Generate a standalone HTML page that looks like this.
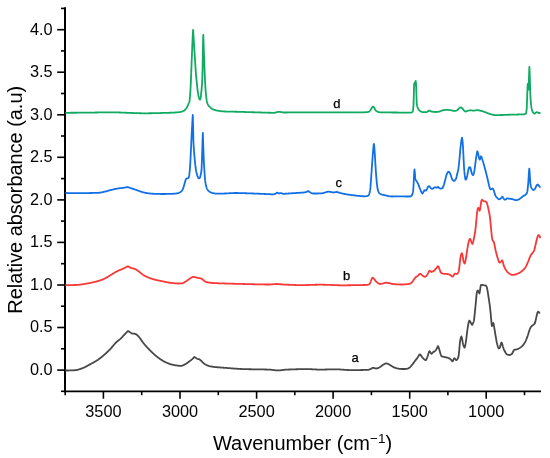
<!DOCTYPE html>
<html><head><meta charset="utf-8"><title>FTIR spectra</title>
<style>
html,body{margin:0;padding:0;background:#fff;}
body{width:550px;height:458px;overflow:hidden;}
svg{display:block;}
text{font-family:"Liberation Sans",Arial,sans-serif;fill:#000;}
.ax{stroke:#000;stroke-width:2.0;}
.tk{stroke:#000;stroke-width:1.6;}
.tl{font-size:16.3px;}
.lb{font-size:13px;stroke:#000;stroke-width:0.25px;}
.at{font-size:20px;}
</style></head><body>
<svg width="550" height="458" viewBox="0 0 550 458">
<rect width="550" height="458" fill="#fff"/>
<line x1="65.0" y1="7.3" x2="65.0" y2="392.25" class="ax"/>
<line x1="64.0" y1="391.4" x2="541" y2="391.4" class="ax" style="stroke-width:1.7"/>
<line x1="61.0" y1="391.3" x2="65.0" y2="391.3" class="tk"/>
<line x1="57.2" y1="370.1" x2="65.0" y2="370.1" class="tk"/>
<text x="52.6" y="374.9" class="tl" text-anchor="end">0.0</text>
<line x1="61.0" y1="348.8" x2="65.0" y2="348.8" class="tk"/>
<line x1="57.2" y1="327.5" x2="65.0" y2="327.5" class="tk"/>
<text x="52.6" y="332.4" class="tl" text-anchor="end">0.5</text>
<line x1="61.0" y1="306.2" x2="65.0" y2="306.2" class="tk"/>
<line x1="57.2" y1="285.0" x2="65.0" y2="285.0" class="tk"/>
<text x="52.6" y="289.9" class="tl" text-anchor="end">1.0</text>
<line x1="61.0" y1="263.7" x2="65.0" y2="263.7" class="tk"/>
<line x1="57.2" y1="242.4" x2="65.0" y2="242.4" class="tk"/>
<text x="52.6" y="247.3" class="tl" text-anchor="end">1.5</text>
<line x1="61.0" y1="221.1" x2="65.0" y2="221.1" class="tk"/>
<line x1="57.2" y1="199.9" x2="65.0" y2="199.9" class="tk"/>
<text x="52.6" y="204.8" class="tl" text-anchor="end">2.0</text>
<line x1="61.0" y1="178.6" x2="65.0" y2="178.6" class="tk"/>
<line x1="57.2" y1="157.3" x2="65.0" y2="157.3" class="tk"/>
<text x="52.6" y="162.2" class="tl" text-anchor="end">2.5</text>
<line x1="61.0" y1="136.0" x2="65.0" y2="136.0" class="tk"/>
<line x1="57.2" y1="114.8" x2="65.0" y2="114.8" class="tk"/>
<text x="52.6" y="119.7" class="tl" text-anchor="end">3.0</text>
<line x1="61.0" y1="93.5" x2="65.0" y2="93.5" class="tk"/>
<line x1="57.2" y1="72.2" x2="65.0" y2="72.2" class="tk"/>
<text x="52.6" y="77.1" class="tl" text-anchor="end">3.5</text>
<line x1="61.0" y1="50.9" x2="65.0" y2="50.9" class="tk"/>
<line x1="57.2" y1="29.7" x2="65.0" y2="29.7" class="tk"/>
<text x="52.6" y="34.6" class="tl" text-anchor="end">4.0</text>
<line x1="61.0" y1="8.4" x2="65.0" y2="8.4" class="tk"/>
<line x1="65.2" y1="391.4" x2="65.2" y2="395.2" class="tk"/>
<line x1="103.4" y1="391.4" x2="103.4" y2="398.7" class="tk"/>
<text x="103.4" y="416.6" class="tl" text-anchor="middle">3500</text>
<line x1="141.7" y1="391.4" x2="141.7" y2="395.2" class="tk"/>
<line x1="180.0" y1="391.4" x2="180.0" y2="398.7" class="tk"/>
<text x="180.0" y="416.6" class="tl" text-anchor="middle">3000</text>
<line x1="218.3" y1="391.4" x2="218.3" y2="395.2" class="tk"/>
<line x1="256.6" y1="391.4" x2="256.6" y2="398.7" class="tk"/>
<text x="256.6" y="416.6" class="tl" text-anchor="middle">2500</text>
<line x1="294.8" y1="391.4" x2="294.8" y2="395.2" class="tk"/>
<line x1="333.1" y1="391.4" x2="333.1" y2="398.7" class="tk"/>
<text x="333.1" y="416.6" class="tl" text-anchor="middle">2000</text>
<line x1="371.4" y1="391.4" x2="371.4" y2="395.2" class="tk"/>
<line x1="409.7" y1="391.4" x2="409.7" y2="398.7" class="tk"/>
<text x="409.7" y="416.6" class="tl" text-anchor="middle">1500</text>
<line x1="447.9" y1="391.4" x2="447.9" y2="395.2" class="tk"/>
<line x1="486.2" y1="391.4" x2="486.2" y2="398.7" class="tk"/>
<text x="486.2" y="416.6" class="tl" text-anchor="middle">1000</text>
<line x1="524.5" y1="391.4" x2="524.5" y2="395.2" class="tk"/>
<path d="M66.00,370.50 66.40,370.50 66.80,370.50 67.20,370.49 67.60,370.49 68.00,370.48 68.40,370.48 68.80,370.47 69.20,370.46 69.60,370.45 70.00,370.44 70.40,370.43 70.80,370.41 71.20,370.40 71.60,370.38 72.00,370.37 72.40,370.35 72.80,370.33 73.20,370.31 73.60,370.29 74.00,370.27 74.40,370.25 74.80,370.23 75.20,370.21 75.30,370.20 75.60,370.18 76.00,370.13 76.40,370.08 76.80,370.01 77.20,369.92 77.60,369.83 78.00,369.73 78.40,369.61 78.80,369.49 79.20,369.36 79.60,369.23 80.00,369.09 80.40,368.94 80.80,368.79 81.20,368.64 81.60,368.49 82.00,368.34 82.40,368.19 82.80,368.04 82.90,368.00 83.20,367.89 83.60,367.73 84.00,367.56 84.40,367.38 84.80,367.19 85.20,367.00 85.60,366.80 86.00,366.59 86.40,366.38 86.80,366.16 87.20,365.94 87.60,365.72 88.00,365.50 88.40,365.27 88.80,365.05 89.20,364.82 89.60,364.60 90.00,364.38 90.40,364.15 90.50,364.10 90.80,363.94 91.20,363.72 91.60,363.50 92.00,363.28 92.40,363.06 92.80,362.85 93.20,362.62 93.60,362.40 94.00,362.18 94.40,361.95 94.80,361.72 95.20,361.49 95.60,361.25 96.00,361.01 96.40,360.77 96.80,360.52 97.20,360.26 97.60,360.00 98.00,359.74 98.20,359.60 98.40,359.46 98.80,359.18 99.20,358.89 99.60,358.60 100.00,358.30 100.40,357.99 100.80,357.68 101.20,357.36 101.60,357.03 102.00,356.70 102.40,356.37 102.80,356.03 103.20,355.69 103.60,355.34 104.00,355.00 104.40,354.65 104.80,354.29 105.20,353.94 105.60,353.58 105.80,353.40 106.00,353.22 106.40,352.86 106.80,352.49 107.20,352.11 107.60,351.73 108.00,351.35 108.40,350.96 108.80,350.56 109.20,350.16 109.60,349.75 110.00,349.34 110.40,348.93 110.80,348.51 110.90,348.40 111.20,348.08 111.60,347.62 112.00,347.16 112.40,346.68 112.80,346.19 113.20,345.70 113.60,345.21 114.00,344.73 114.40,344.25 114.80,343.78 115.20,343.33 115.60,342.90 116.00,342.50 116.40,342.12 116.80,341.76 117.20,341.42 117.60,341.09 118.00,340.77 118.40,340.45 118.80,340.14 119.20,339.82 119.60,339.51 120.00,339.18 120.40,338.84 120.80,338.48 121.10,338.20 121.20,338.10 121.60,337.71 122.00,337.29 122.40,336.86 122.80,336.41 123.20,335.96 123.60,335.51 124.00,335.07 124.40,334.63 124.80,334.20 124.90,334.10 125.20,333.79 125.60,333.38 126.00,332.98 126.40,332.59 126.70,332.30 126.80,332.20 127.20,331.72 127.60,331.29 128.00,331.10 128.40,331.19 128.80,331.39 129.00,331.50 129.20,331.63 129.60,331.98 130.00,332.30 130.40,332.57 130.80,332.84 131.20,333.09 131.60,333.32 132.00,333.49 132.40,333.59 132.50,333.60 132.80,333.62 133.20,333.64 133.60,333.66 134.00,333.68 134.30,333.70 134.40,333.71 134.80,333.78 135.20,333.89 135.60,334.02 135.80,334.10 136.00,334.19 136.40,334.45 136.80,334.77 137.20,335.11 137.30,335.20 137.60,335.48 138.00,335.88 138.40,336.32 138.80,336.78 138.90,336.90 139.20,337.26 139.60,337.76 140.00,338.29 140.40,338.83 140.80,339.39 141.20,339.96 141.60,340.54 142.00,341.11 142.40,341.68 142.80,342.23 143.20,342.78 143.60,343.30 144.00,343.80 144.40,344.28 144.80,344.75 145.20,345.22 145.60,345.67 146.00,346.12 146.40,346.56 146.80,347.00 147.20,347.43 147.60,347.85 148.00,348.27 148.40,348.68 148.80,349.09 149.10,349.40 149.20,349.50 149.60,349.91 150.00,350.31 150.40,350.71 150.80,351.12 151.20,351.51 151.60,351.91 152.00,352.30 152.40,352.69 152.80,353.08 153.20,353.46 153.60,353.83 154.00,354.20 154.40,354.56 154.80,354.92 155.20,355.27 155.60,355.61 156.00,355.94 156.40,356.26 156.70,356.50 156.80,356.58 157.20,356.89 157.60,357.20 158.00,357.50 158.40,357.81 158.80,358.10 159.20,358.40 159.60,358.69 160.00,358.97 160.40,359.25 160.80,359.53 161.20,359.80 161.60,360.06 162.00,360.31 162.40,360.55 162.80,360.79 163.20,361.02 163.60,361.24 164.00,361.45 164.30,361.60 164.40,361.65 164.80,361.84 165.20,362.04 165.60,362.23 166.00,362.41 166.40,362.60 166.80,362.77 167.20,362.95 167.60,363.12 168.00,363.28 168.40,363.44 168.80,363.60 169.20,363.75 169.60,363.89 170.00,364.02 170.40,364.15 170.80,364.28 171.20,364.39 171.60,364.50 172.00,364.60 172.40,364.69 172.80,364.78 173.20,364.87 173.60,364.95 174.00,365.03 174.40,365.10 174.80,365.17 175.20,365.24 175.60,365.30 176.00,365.36 176.40,365.42 176.80,365.47 177.00,365.50 177.20,365.53 177.60,365.58 178.00,365.64 178.40,365.69 178.80,365.74 179.20,365.79 179.60,365.83 180.00,365.87 180.40,365.89 180.80,365.90 180.90,365.90 181.20,365.88 181.60,365.81 182.00,365.70 182.40,365.55 182.80,365.39 183.20,365.22 183.50,365.10 183.60,365.06 184.00,364.88 184.40,364.67 184.80,364.44 185.20,364.20 185.60,363.95 186.00,363.70 186.40,363.45 186.80,363.20 187.20,362.94 187.60,362.67 188.00,362.39 188.40,362.11 188.80,361.83 189.20,361.54 189.60,361.25 189.80,361.10 190.00,360.95 190.40,360.64 190.80,360.33 191.20,360.01 191.60,359.67 191.80,359.50 192.00,359.32 192.40,358.96 192.80,358.58 193.20,358.19 193.40,358.00 193.60,357.77 194.00,357.26 194.40,357.00 194.80,357.18 195.20,357.54 195.40,357.70 195.60,357.83 196.00,358.06 196.40,358.30 196.80,358.57 197.20,358.82 197.40,358.90 197.60,358.95 198.00,359.02 198.40,359.07 198.80,359.13 199.10,359.20 199.20,359.23 199.60,359.46 200.00,359.77 200.40,360.12 200.50,360.20 200.80,360.46 201.20,360.83 201.60,361.22 202.00,361.63 202.40,362.03 202.80,362.41 202.90,362.50 203.20,362.77 203.60,363.14 204.00,363.49 204.40,363.82 204.80,364.10 205.20,364.35 205.60,364.57 206.00,364.77 206.40,364.96 206.70,365.10 206.80,365.15 207.20,365.32 207.60,365.50 208.00,365.66 208.40,365.81 208.80,365.94 209.00,366.00 209.20,366.05 209.60,366.16 210.00,366.26 210.40,366.34 210.80,366.43 211.20,366.50 211.60,366.57 211.80,366.60 212.00,366.63 212.40,366.69 212.80,366.74 213.20,366.80 213.60,366.85 214.00,366.90 214.40,366.94 214.80,366.99 215.20,367.03 215.60,367.07 216.00,367.11 216.40,367.15 216.80,367.19 217.20,367.23 217.60,367.26 218.00,367.30 218.40,367.34 218.80,367.37 219.20,367.41 219.60,367.44 220.00,367.47 220.40,367.50 220.80,367.54 221.20,367.57 221.60,367.60 222.00,367.63 222.40,367.66 222.80,367.69 223.20,367.71 223.60,367.74 224.00,367.77 224.40,367.80 224.80,367.83 225.20,367.86 225.60,367.89 225.80,367.90 226.00,367.91 226.40,367.94 226.80,367.97 227.20,368.00 227.60,368.03 228.00,368.07 228.40,368.10 228.80,368.13 229.20,368.16 229.60,368.19 230.00,368.22 230.40,368.25 230.80,368.29 231.20,368.32 231.60,368.35 232.00,368.38 232.40,368.41 232.80,368.44 233.20,368.48 233.60,368.51 234.00,368.54 234.40,368.57 234.80,368.60 235.20,368.63 235.60,368.66 236.00,368.69 236.40,368.72 236.80,368.74 237.20,368.77 237.60,368.80 238.00,368.82 238.40,368.85 238.80,368.87 239.20,368.90 239.60,368.92 240.00,368.94 240.40,368.96 240.80,368.98 241.20,369.00 241.60,369.02 242.00,369.04 242.40,369.06 242.80,369.07 243.20,369.09 243.60,369.10 244.00,369.11 244.40,369.12 244.80,369.14 245.20,369.15 245.60,369.16 246.00,369.17 246.40,369.18 246.80,369.19 247.20,369.20 247.60,369.20 248.00,369.21 248.40,369.22 248.80,369.23 249.20,369.23 249.60,369.24 250.00,369.25 250.40,369.26 250.80,369.26 251.20,369.27 251.60,369.27 252.00,369.28 252.40,369.29 252.80,369.29 253.20,369.30 253.60,369.30 254.00,369.31 254.40,369.31 254.80,369.32 255.20,369.32 255.60,369.33 256.00,369.33 256.40,369.34 256.80,369.34 257.20,369.35 257.60,369.35 258.00,369.36 258.40,369.36 258.80,369.37 259.20,369.37 259.60,369.38 260.00,369.39 260.40,369.39 260.80,369.40 261.20,369.41 261.60,369.41 262.00,369.42 262.40,369.43 262.80,369.43 263.20,369.44 263.60,369.45 264.00,369.46 264.40,369.47 264.80,369.48 265.20,369.49 265.60,369.50 266.00,369.51 266.40,369.52 266.80,369.53 267.20,369.54 267.60,369.55 268.00,369.57 268.40,369.58 268.80,369.59 269.00,369.60 269.20,369.61 269.60,369.63 270.00,369.66 270.40,369.69 270.80,369.72 271.20,369.77 271.60,369.81 272.00,369.86 272.40,369.90 272.80,369.95 273.20,370.00 273.60,370.05 274.00,370.10 274.40,370.15 274.80,370.19 275.20,370.24 275.60,370.28 276.00,370.31 276.40,370.34 276.80,370.37 277.20,370.38 277.60,370.40 278.00,370.40 278.40,370.40 278.80,370.38 279.20,370.37 279.60,370.34 280.00,370.31 280.40,370.28 280.80,370.24 281.20,370.19 281.60,370.15 282.00,370.10 282.40,370.05 282.80,370.00 283.20,369.95 283.60,369.90 284.00,369.85 284.40,369.81 284.80,369.76 285.20,369.72 285.60,369.69 286.00,369.65 286.40,369.63 286.80,369.60 286.90,369.60 287.20,369.59 287.60,369.57 288.00,369.55 288.40,369.54 288.80,369.52 289.20,369.51 289.60,369.49 290.00,369.48 290.40,369.46 290.80,369.45 291.20,369.43 291.60,369.42 292.00,369.40 292.40,369.39 292.80,369.37 293.20,369.36 293.60,369.35 294.00,369.33 294.40,369.32 294.80,369.31 295.20,369.30 295.60,369.28 296.00,369.27 296.40,369.26 296.80,369.25 297.20,369.24 297.60,369.23 298.00,369.22 298.40,369.21 298.80,369.20 299.20,369.19 299.60,369.18 300.00,369.18 300.40,369.17 300.80,369.16 301.20,369.15 301.60,369.15 302.00,369.14 302.40,369.13 302.80,369.13 303.20,369.12 303.60,369.12 304.00,369.12 304.40,369.11 304.80,369.11 305.20,369.11 305.60,369.10 306.00,369.10 306.40,369.10 306.80,369.10 307.20,369.10 307.60,369.10 308.00,369.11 308.40,369.11 308.80,369.12 309.20,369.13 309.60,369.15 310.00,369.16 310.40,369.18 310.80,369.20 311.20,369.22 311.60,369.24 312.00,369.26 312.40,369.28 312.80,369.30 313.20,369.33 313.60,369.35 314.00,369.37 314.40,369.40 314.80,369.42 315.20,369.44 315.60,369.46 316.00,369.48 316.40,369.50 316.80,369.52 317.20,369.54 317.60,369.55 318.00,369.57 318.40,369.58 318.80,369.59 319.20,369.59 319.60,369.60 320.00,369.60 320.40,369.60 320.80,369.60 321.20,369.59 321.60,369.59 322.00,369.59 322.40,369.58 322.80,369.57 323.20,369.57 323.60,369.56 324.00,369.55 324.40,369.54 324.80,369.53 325.20,369.52 325.60,369.51 326.00,369.50 326.40,369.49 326.80,369.48 327.20,369.46 327.60,369.45 328.00,369.44 328.40,369.43 328.80,369.42 329.20,369.41 329.60,369.40 330.00,369.38 330.40,369.37 330.80,369.36 331.20,369.35 331.60,369.35 332.00,369.34 332.40,369.33 332.80,369.32 333.20,369.32 333.60,369.31 334.00,369.31 334.40,369.30 334.80,369.30 335.20,369.30 335.40,369.30 335.60,369.30 336.00,369.30 336.40,369.31 336.80,369.32 337.20,369.33 337.60,369.34 338.00,369.36 338.40,369.38 338.80,369.40 339.20,369.42 339.60,369.45 340.00,369.47 340.40,369.50 340.80,369.53 341.20,369.56 341.60,369.59 342.00,369.62 342.40,369.65 342.80,369.68 343.20,369.71 343.60,369.74 344.00,369.77 344.40,369.80 344.80,369.83 345.20,369.86 345.60,369.89 346.00,369.92 346.40,369.95 346.80,369.97 347.20,369.99 347.60,370.01 348.00,370.03 348.40,370.05 348.80,370.07 349.20,370.08 349.60,370.09 350.00,370.10 350.40,370.10 350.70,370.10 350.80,370.10 351.20,370.10 351.60,370.10 352.00,370.10 352.40,370.10 352.80,370.10 353.20,370.10 353.60,370.09 354.00,370.09 354.40,370.09 354.80,370.09 355.20,370.09 355.60,370.08 356.00,370.08 356.40,370.08 356.80,370.07 357.20,370.07 357.60,370.07 358.00,370.06 358.40,370.06 358.80,370.05 359.20,370.05 359.60,370.04 360.00,370.03 360.40,370.03 360.80,370.02 361.20,370.01 361.60,370.00 362.00,370.00 362.40,369.99 362.80,369.98 363.20,369.97 363.60,369.96 364.00,369.95 364.40,369.93 364.80,369.92 365.20,369.91 365.60,369.90 366.00,369.88 366.40,369.87 366.80,369.86 367.20,369.84 367.60,369.82 368.00,369.81 368.20,369.80 368.40,369.78 368.80,369.71 369.20,369.59 369.60,369.43 370.00,369.26 370.40,369.08 370.80,368.90 371.20,368.69 371.60,368.41 372.00,368.14 372.40,367.92 372.80,367.81 372.90,367.80 373.20,367.82 373.60,367.91 374.00,368.03 374.40,368.15 374.60,368.20 374.80,368.24 375.20,368.34 375.60,368.43 376.00,368.49 376.20,368.50 376.40,368.49 376.80,368.44 377.20,368.35 377.60,368.22 378.00,368.08 378.40,367.92 378.70,367.80 378.80,367.76 379.20,367.56 379.60,367.31 380.00,367.04 380.40,366.77 380.50,366.70 380.80,366.49 381.20,366.18 381.60,365.87 382.00,365.56 382.40,365.27 382.50,365.20 382.80,365.00 383.20,364.73 383.60,364.48 384.00,364.24 384.40,364.04 384.50,364.00 384.80,363.87 385.20,363.69 385.60,363.53 386.00,363.43 386.30,363.40 386.40,363.40 386.80,363.46 387.20,363.58 387.60,363.74 388.00,363.92 388.20,364.00 388.40,364.09 388.80,364.30 389.20,364.55 389.60,364.82 390.00,365.08 390.20,365.20 390.40,365.32 390.80,365.57 391.20,365.83 391.60,366.08 392.00,366.32 392.40,366.55 392.50,366.60 392.80,366.75 393.20,366.95 393.60,367.14 394.00,367.32 394.40,367.49 394.80,367.65 395.20,367.80 395.60,367.94 396.00,368.07 396.40,368.20 396.80,368.32 397.20,368.43 397.60,368.52 398.00,368.60 398.40,368.67 398.80,368.73 399.20,368.79 399.60,368.85 400.00,368.90 400.40,368.94 400.80,368.97 401.20,368.99 401.60,369.00 402.00,369.00 402.40,369.00 402.80,369.00 403.20,369.00 403.60,369.00 404.00,369.00 404.40,369.00 404.80,369.00 405.00,369.00 405.20,369.00 405.60,368.97 406.00,368.93 406.40,368.87 406.80,368.80 407.20,368.71 407.60,368.61 408.00,368.50 408.40,368.35 408.80,368.12 409.20,367.84 409.60,367.53 410.00,367.20 410.40,366.83 410.80,366.40 411.20,365.93 411.60,365.44 411.80,365.20 412.00,364.96 412.40,364.45 412.80,363.93 413.20,363.40 413.60,362.85 414.00,362.30 414.40,361.74 414.80,361.19 415.20,360.64 415.60,360.10 416.00,359.58 416.40,359.08 416.80,358.58 417.20,358.07 417.60,357.53 418.00,356.95 418.10,356.80 418.40,356.26 418.80,355.50 419.00,355.20 419.20,354.93 419.60,354.45 419.90,354.30 420.00,354.32 420.40,354.67 420.80,355.23 421.00,355.50 421.20,355.76 421.60,356.33 422.00,356.93 422.40,357.48 422.50,357.60 422.80,357.95 423.20,358.38 423.60,358.77 424.00,359.10 424.40,359.40 424.80,359.69 425.20,359.94 425.60,360.08 425.80,360.10 426.00,359.99 426.40,359.32 426.70,358.70 426.80,358.49 427.20,357.46 427.60,356.30 428.00,355.03 428.40,353.74 428.60,353.20 428.80,352.68 429.20,351.67 429.60,351.20 430.00,351.61 430.40,352.38 430.60,352.70 430.80,352.98 431.20,353.53 431.60,353.80 432.00,353.44 432.40,352.81 432.50,352.70 432.80,352.44 433.20,352.14 433.40,352.00 433.60,351.86 434.00,351.63 434.40,351.41 434.80,351.17 435.20,350.88 435.40,350.70 435.60,350.48 436.00,349.91 436.40,349.22 436.80,348.50 437.20,347.56 437.60,346.57 438.00,346.10 438.40,346.70 438.80,347.91 438.90,348.20 439.20,349.11 439.60,350.49 439.80,351.20 440.00,351.95 440.40,353.53 440.70,354.50 440.80,354.76 441.20,355.74 441.60,356.30 442.00,356.47 442.40,356.57 442.80,356.65 443.00,356.70 443.20,356.75 443.60,356.83 444.00,356.91 444.40,356.99 444.80,357.08 444.90,357.10 445.20,357.17 445.60,357.26 446.00,357.34 446.40,357.43 446.80,357.53 447.20,357.63 447.60,357.74 448.00,357.86 448.40,357.99 448.70,358.10 448.80,358.14 449.20,358.35 449.60,358.60 450.00,358.87 450.40,359.18 450.80,359.52 451.00,359.70 451.20,359.92 451.60,360.50 452.00,361.06 452.40,361.38 452.50,361.40 452.80,361.14 453.20,360.32 453.50,359.70 453.60,359.51 454.00,358.60 454.40,358.10 454.80,358.42 455.20,359.04 455.40,359.30 455.60,359.55 456.00,360.04 456.30,360.20 456.40,360.18 456.80,359.86 457.20,359.33 457.30,359.20 457.60,358.81 458.00,358.14 458.30,357.40 458.40,357.02 458.80,354.31 459.10,351.70 459.20,350.74 459.60,345.97 459.90,342.90 460.00,342.15 460.40,339.55 460.70,338.20 460.80,337.86 461.20,336.70 461.40,336.50 461.60,336.77 462.00,338.28 462.10,338.70 462.40,340.43 462.80,342.90 463.20,344.47 463.60,345.70 464.00,346.87 464.40,347.66 464.50,347.70 464.80,347.19 465.20,345.70 465.60,343.63 465.90,341.70 466.00,341.03 466.40,338.03 466.80,334.71 467.20,331.43 467.60,328.50 468.00,325.89 468.40,323.65 468.50,323.20 468.80,321.89 469.20,320.67 469.30,320.60 469.60,320.78 470.00,321.30 470.40,321.94 470.70,322.50 470.80,322.69 471.20,323.55 471.50,324.10 471.60,324.25 472.00,324.80 472.20,324.90 472.40,324.68 472.80,323.56 472.90,323.30 473.20,322.69 473.60,321.82 473.80,321.20 474.00,320.15 474.40,316.81 474.60,315.00 474.80,313.19 475.20,309.21 475.60,305.01 475.90,301.90 476.00,300.83 476.40,296.11 476.80,292.70 477.20,291.17 477.40,290.80 477.60,290.62 477.90,290.50 478.00,290.54 478.40,291.26 478.60,291.70 478.80,292.20 479.20,293.29 479.40,293.50 479.60,292.96 479.90,291.20 480.00,290.58 480.40,287.70 480.80,285.50 481.20,284.80 481.60,284.82 482.00,284.88 482.40,284.96 482.80,285.05 483.20,285.14 483.50,285.20 483.60,285.22 484.00,285.28 484.40,285.33 484.80,285.38 485.20,285.45 485.60,285.56 486.00,285.70 486.40,286.27 486.70,287.00 486.80,287.28 487.20,288.84 487.30,289.30 487.60,290.88 488.00,293.43 488.40,296.16 488.60,297.50 488.80,298.79 489.20,301.33 489.60,304.03 489.90,306.30 490.00,307.13 490.40,310.88 490.80,315.00 491.20,319.55 491.40,321.70 491.60,323.95 491.90,326.10 492.00,326.02 492.40,324.79 492.60,324.20 492.80,323.75 493.20,323.04 493.30,323.00 493.60,323.88 494.00,326.20 494.40,328.48 494.80,330.90 495.20,333.30 495.60,335.77 496.00,338.19 496.40,340.46 496.80,342.46 496.90,342.90 497.20,344.14 497.60,345.59 497.90,346.50 498.00,346.78 498.40,347.94 498.80,348.50 499.20,348.28 499.40,348.10 499.60,347.90 500.00,347.30 500.40,345.85 500.80,344.20 501.20,342.95 501.50,342.50 501.60,342.55 502.00,343.36 502.20,343.90 502.40,344.55 502.80,346.16 502.90,346.50 503.20,347.41 503.60,348.55 504.00,349.59 504.40,350.52 504.80,351.30 505.20,352.01 505.60,352.69 506.00,353.32 506.40,353.86 506.80,354.26 507.20,354.50 507.60,354.64 508.00,354.76 508.40,354.86 508.80,354.93 509.20,354.98 509.60,355.00 510.00,354.95 510.40,354.82 510.80,354.62 511.20,354.35 511.60,354.04 512.00,353.70 512.40,353.12 512.80,352.28 513.20,351.50 513.60,350.76 514.00,350.06 514.40,349.70 514.80,349.63 515.20,349.59 515.60,349.55 516.00,349.50 516.40,349.42 516.80,349.31 517.20,349.19 517.60,349.05 518.00,348.90 518.40,348.73 518.80,348.54 519.20,348.32 519.60,348.08 520.00,347.82 520.40,347.54 520.80,347.24 521.20,346.92 521.60,346.59 521.70,346.50 522.00,346.23 522.40,345.82 522.80,345.38 523.20,344.90 523.60,344.37 524.00,343.81 524.40,343.20 524.80,342.56 525.20,341.88 525.30,341.70 525.60,341.12 526.00,340.24 526.40,339.25 526.80,338.18 527.20,337.08 527.60,335.97 527.70,335.70 528.00,334.83 528.40,333.56 528.80,332.24 529.20,330.93 529.60,329.73 530.00,328.72 530.10,328.50 530.40,327.90 530.80,327.20 531.20,326.62 531.30,326.50 531.60,326.17 532.00,325.81 532.40,325.48 532.50,325.40 532.80,325.17 533.20,324.89 533.60,324.59 533.70,324.50 534.00,324.25 534.40,323.88 534.80,323.37 534.90,323.20 535.20,322.34 535.60,320.63 535.70,320.20 536.00,318.85 536.40,316.94 536.50,316.50 536.80,315.19 537.20,313.61 537.30,313.30 537.60,312.39 538.00,311.70 538.40,311.82 538.70,312.00 538.80,312.08 539.20,312.57 539.40,312.90" fill="none" stroke="#484848" stroke-width="1.8" stroke-linejoin="round" stroke-linecap="round"/>
<path d="M66.00,285.10 66.40,285.10 66.80,285.10 67.20,285.10 67.60,285.10 68.00,285.09 68.40,285.09 68.80,285.09 69.20,285.09 69.60,285.08 70.00,285.08 70.40,285.08 70.80,285.07 71.20,285.07 71.60,285.06 72.00,285.06 72.40,285.05 72.80,285.04 73.20,285.04 73.60,285.03 74.00,285.02 74.40,285.02 74.80,285.01 75.20,285.00 75.30,285.00 75.60,284.99 76.00,284.98 76.40,284.96 76.80,284.94 77.20,284.91 77.60,284.88 78.00,284.84 78.40,284.80 78.80,284.76 79.20,284.71 79.60,284.66 80.00,284.61 80.40,284.56 80.80,284.50 81.20,284.45 81.60,284.39 82.00,284.33 82.40,284.27 82.80,284.20 83.20,284.14 83.60,284.08 84.00,284.02 84.40,283.95 84.80,283.89 85.20,283.83 85.40,283.80 85.60,283.77 86.00,283.71 86.40,283.64 86.80,283.58 87.20,283.51 87.60,283.44 88.00,283.37 88.40,283.30 88.80,283.22 89.20,283.14 89.60,283.07 90.00,282.99 90.40,282.90 90.80,282.82 91.20,282.73 91.60,282.65 92.00,282.56 92.40,282.47 92.80,282.38 93.20,282.29 93.60,282.19 94.00,282.10 94.40,282.00 94.80,281.90 95.20,281.80 95.60,281.70 96.00,281.60 96.40,281.49 96.80,281.38 97.20,281.27 97.60,281.16 98.00,281.05 98.40,280.93 98.80,280.81 99.20,280.68 99.60,280.55 100.00,280.42 100.40,280.29 100.80,280.15 101.20,280.01 101.60,279.86 102.00,279.71 102.40,279.56 102.80,279.40 103.20,279.24 103.30,279.20 103.60,279.07 104.00,278.89 104.40,278.70 104.80,278.50 105.20,278.30 105.60,278.08 106.00,277.86 106.40,277.63 106.80,277.39 107.20,277.16 107.60,276.91 108.00,276.67 108.40,276.42 108.80,276.18 109.20,275.93 109.60,275.68 110.00,275.44 110.40,275.20 110.80,274.96 110.90,274.90 111.20,274.72 111.60,274.48 112.00,274.23 112.40,273.97 112.80,273.72 113.20,273.46 113.60,273.21 114.00,272.96 114.40,272.71 114.80,272.47 115.20,272.24 115.60,272.01 116.00,271.80 116.40,271.60 116.80,271.40 117.20,271.21 117.60,271.03 118.00,270.85 118.40,270.67 118.80,270.50 119.20,270.33 119.60,270.16 120.00,270.00 120.40,269.83 120.80,269.66 121.20,269.49 121.60,269.31 122.00,269.14 122.30,269.00 122.40,268.95 122.80,268.77 123.20,268.58 123.60,268.39 124.00,268.20 124.40,268.01 124.80,267.82 125.20,267.64 125.50,267.50 125.60,267.45 126.00,267.24 126.40,267.01 126.80,266.78 127.20,266.59 127.60,266.45 128.00,266.40 128.40,266.48 128.80,266.69 129.20,266.93 129.50,267.10 129.60,267.15 130.00,267.38 130.40,267.62 130.80,267.84 131.20,268.00 131.60,268.11 132.00,268.19 132.40,268.27 132.80,268.35 133.00,268.40 133.20,268.45 133.60,268.55 134.00,268.66 134.40,268.79 134.80,268.92 135.00,269.00 135.20,269.08 135.60,269.28 136.00,269.51 136.40,269.77 136.80,270.04 137.20,270.34 137.60,270.64 138.00,270.94 138.40,271.24 138.80,271.53 138.90,271.60 139.20,271.82 139.60,272.11 140.00,272.43 140.40,272.74 140.80,273.07 141.20,273.39 141.60,273.71 142.00,274.03 142.40,274.33 142.80,274.63 143.20,274.91 143.60,275.16 144.00,275.40 144.40,275.62 144.80,275.84 145.20,276.05 145.60,276.25 146.00,276.45 146.40,276.64 146.80,276.83 147.20,277.01 147.60,277.19 148.00,277.36 148.40,277.53 148.80,277.70 149.20,277.85 149.60,278.01 150.00,278.15 150.40,278.30 150.80,278.44 151.20,278.57 151.60,278.70 152.00,278.83 152.40,278.95 152.80,279.07 153.20,279.18 153.60,279.30 154.00,279.41 154.40,279.52 154.80,279.62 155.20,279.72 155.60,279.83 156.00,279.92 156.40,280.02 156.80,280.12 157.20,280.21 157.60,280.30 158.00,280.39 158.40,280.48 158.80,280.57 159.20,280.66 159.60,280.74 160.00,280.83 160.40,280.91 160.80,280.99 161.20,281.08 161.60,281.16 161.80,281.20 162.00,281.24 162.40,281.32 162.80,281.41 163.20,281.49 163.60,281.57 164.00,281.65 164.40,281.73 164.80,281.81 165.20,281.89 165.60,281.97 166.00,282.05 166.40,282.13 166.80,282.20 167.20,282.28 167.60,282.35 168.00,282.42 168.40,282.49 168.80,282.56 169.20,282.62 169.60,282.68 170.00,282.74 170.40,282.80 170.80,282.85 171.20,282.91 171.60,282.95 172.00,283.00 172.40,283.04 172.80,283.09 173.20,283.14 173.60,283.18 174.00,283.23 174.40,283.27 174.80,283.31 175.20,283.35 175.60,283.39 176.00,283.42 176.40,283.45 176.80,283.47 177.20,283.49 177.60,283.50 178.00,283.50 178.40,283.50 178.80,283.49 179.20,283.48 179.60,283.47 180.00,283.45 180.40,283.43 180.80,283.40 181.20,283.37 181.60,283.34 182.00,283.31 182.10,283.30 182.40,283.26 182.80,283.15 183.20,283.00 183.60,282.82 184.00,282.60 184.40,282.36 184.80,282.10 185.20,281.84 185.60,281.58 186.00,281.32 186.20,281.20 186.40,281.08 186.80,280.82 187.20,280.54 187.60,280.25 188.00,279.95 188.40,279.65 188.80,279.35 189.20,279.05 189.60,278.77 190.00,278.50 190.40,278.24 190.80,277.97 191.20,277.72 191.60,277.49 192.00,277.30 192.40,277.12 192.80,276.97 193.20,276.90 193.60,276.92 194.00,276.97 194.40,277.05 194.80,277.14 195.20,277.23 195.50,277.30 195.60,277.32 196.00,277.42 196.40,277.52 196.80,277.63 197.20,277.75 197.60,277.85 197.80,277.90 198.00,277.95 198.40,278.03 198.80,278.10 199.20,278.16 199.60,278.23 200.00,278.30 200.40,278.37 200.80,278.46 201.20,278.57 201.60,278.70 202.00,278.91 202.40,279.22 202.80,279.58 203.20,279.95 203.50,280.20 203.60,280.28 204.00,280.63 204.40,281.00 204.80,281.33 205.20,281.60 205.40,281.70 205.60,281.78 206.00,281.92 206.40,282.05 206.80,282.16 207.20,282.25 207.60,282.34 208.00,282.42 208.40,282.48 208.50,282.50 208.80,282.55 209.20,282.61 209.60,282.66 210.00,282.71 210.40,282.76 210.80,282.81 211.20,282.85 211.60,282.89 212.00,282.93 212.40,282.96 212.80,282.99 213.00,283.00 213.20,283.01 213.60,283.04 214.00,283.06 214.40,283.09 214.80,283.11 215.20,283.13 215.60,283.15 216.00,283.17 216.40,283.19 216.80,283.21 217.20,283.22 217.60,283.24 218.00,283.26 218.40,283.27 218.80,283.29 219.20,283.31 219.60,283.32 220.00,283.33 220.40,283.35 220.80,283.36 221.20,283.38 221.60,283.39 222.00,283.40 222.40,283.42 222.80,283.43 223.20,283.44 223.60,283.45 224.00,283.47 224.40,283.48 224.80,283.49 225.00,283.50 225.20,283.51 225.60,283.52 226.00,283.53 226.40,283.55 226.80,283.56 227.20,283.57 227.60,283.58 228.00,283.60 228.40,283.61 228.80,283.62 229.20,283.63 229.60,283.64 230.00,283.66 230.40,283.67 230.80,283.68 231.20,283.69 231.60,283.70 232.00,283.71 232.40,283.72 232.80,283.73 233.20,283.74 233.60,283.76 234.00,283.77 234.40,283.78 234.80,283.79 235.20,283.80 235.60,283.81 236.00,283.82 236.40,283.83 236.80,283.84 237.20,283.85 237.60,283.86 238.00,283.87 238.40,283.88 238.80,283.89 239.20,283.90 239.60,283.91 240.00,283.92 240.40,283.93 240.80,283.94 241.20,283.94 241.60,283.95 242.00,283.96 242.40,283.97 242.80,283.98 243.20,283.99 243.60,284.00 244.00,284.01 244.40,284.02 244.80,284.03 245.20,284.04 245.60,284.05 246.00,284.06 246.40,284.07 246.80,284.08 247.20,284.09 247.60,284.10 248.00,284.11 248.40,284.12 248.80,284.13 249.20,284.14 249.60,284.15 250.00,284.16 250.40,284.17 250.80,284.18 251.20,284.19 251.60,284.20 252.00,284.21 252.40,284.22 252.80,284.24 253.20,284.25 253.60,284.26 254.00,284.27 254.40,284.28 254.80,284.29 255.20,284.30 255.60,284.31 256.00,284.32 256.40,284.33 256.80,284.33 257.20,284.34 257.60,284.35 258.00,284.36 258.40,284.37 258.80,284.38 259.20,284.39 259.60,284.40 260.00,284.40 260.40,284.41 260.80,284.42 261.20,284.43 261.60,284.43 262.00,284.44 262.40,284.45 262.80,284.45 263.20,284.46 263.60,284.46 264.00,284.47 264.40,284.47 264.80,284.48 265.20,284.48 265.60,284.48 266.00,284.49 266.40,284.49 266.80,284.49 267.20,284.50 267.60,284.50 268.00,284.50 268.40,284.50 268.80,284.50 269.00,284.50 269.20,284.50 269.60,284.49 270.00,284.48 270.40,284.46 270.80,284.43 271.20,284.40 271.60,284.37 272.00,284.33 272.40,284.29 272.80,284.25 273.20,284.22 273.60,284.18 274.00,284.14 274.40,284.11 274.80,284.08 275.20,284.05 275.60,284.03 276.00,284.01 276.40,284.00 276.70,284.00 276.80,284.00 277.20,284.01 277.60,284.02 278.00,284.04 278.40,284.07 278.80,284.11 279.20,284.14 279.60,284.19 280.00,284.23 280.40,284.27 280.80,284.31 281.20,284.36 281.60,284.40 282.00,284.43 282.40,284.46 282.80,284.49 283.00,284.50 283.20,284.51 283.60,284.53 284.00,284.55 284.40,284.57 284.80,284.59 285.20,284.61 285.60,284.62 286.00,284.64 286.40,284.66 286.80,284.68 287.20,284.70 287.60,284.72 288.00,284.73 288.40,284.75 288.80,284.77 289.20,284.79 289.60,284.80 290.00,284.82 290.40,284.84 290.80,284.85 291.20,284.87 291.60,284.88 292.00,284.90 292.40,284.91 292.80,284.93 293.20,284.94 293.60,284.95 294.00,284.97 294.40,284.98 294.80,284.99 295.20,285.00 295.60,285.01 296.00,285.02 296.40,285.03 296.80,285.04 297.20,285.05 297.60,285.06 298.00,285.06 298.40,285.07 298.80,285.08 299.20,285.08 299.60,285.09 300.00,285.09 300.40,285.09 300.80,285.10 301.20,285.10 301.60,285.10 302.00,285.10 302.40,285.10 302.80,285.10 303.20,285.09 303.60,285.09 304.00,285.09 304.40,285.08 304.80,285.07 305.20,285.07 305.60,285.06 306.00,285.05 306.40,285.04 306.80,285.03 307.20,285.02 307.60,285.01 308.00,285.00 308.40,284.98 308.80,284.97 309.20,284.96 309.60,284.95 310.00,284.93 310.40,284.92 310.80,284.91 311.20,284.89 311.60,284.88 312.00,284.87 312.40,284.85 312.80,284.84 313.20,284.83 313.60,284.82 314.00,284.80 314.40,284.79 314.80,284.78 315.20,284.77 315.60,284.76 316.00,284.75 316.40,284.74 316.80,284.73 317.20,284.73 317.60,284.72 318.00,284.71 318.40,284.71 318.80,284.71 319.20,284.70 319.60,284.70 320.00,284.70 320.40,284.70 320.80,284.70 321.20,284.70 321.60,284.71 322.00,284.71 322.40,284.72 322.80,284.72 323.20,284.73 323.60,284.74 324.00,284.75 324.40,284.76 324.80,284.77 325.20,284.78 325.60,284.79 326.00,284.80 326.40,284.81 326.80,284.83 327.20,284.84 327.60,284.85 328.00,284.87 328.40,284.88 328.80,284.90 329.20,284.91 329.60,284.93 330.00,284.94 330.40,284.96 330.80,284.97 331.20,284.99 331.60,285.00 332.00,285.02 332.40,285.04 332.80,285.05 333.20,285.07 333.60,285.08 334.00,285.10 334.40,285.11 334.80,285.13 335.20,285.14 335.60,285.15 336.00,285.17 336.40,285.18 336.80,285.19 337.20,285.20 337.60,285.22 338.00,285.23 338.40,285.24 338.80,285.25 339.20,285.26 339.60,285.26 340.00,285.27 340.40,285.28 340.80,285.28 341.20,285.29 341.60,285.29 342.00,285.30 342.40,285.30 342.80,285.30 343.00,285.30 343.20,285.30 343.60,285.30 344.00,285.30 344.40,285.30 344.80,285.30 345.20,285.29 345.60,285.29 346.00,285.29 346.40,285.28 346.80,285.28 347.20,285.28 347.60,285.27 348.00,285.27 348.40,285.26 348.80,285.26 349.20,285.25 349.60,285.25 350.00,285.24 350.40,285.23 350.80,285.23 351.20,285.22 351.60,285.21 352.00,285.21 352.40,285.20 352.80,285.19 353.20,285.19 353.60,285.18 354.00,285.17 354.40,285.16 354.80,285.16 355.20,285.15 355.60,285.14 356.00,285.14 356.40,285.13 356.80,285.12 357.20,285.11 357.60,285.11 358.00,285.10 358.40,285.09 358.80,285.09 359.20,285.08 359.60,285.08 360.00,285.07 360.40,285.07 360.80,285.06 361.20,285.06 361.60,285.05 362.00,285.04 362.40,285.04 362.80,285.03 363.20,285.02 363.60,285.02 364.00,285.01 364.40,285.00 364.80,284.99 365.20,284.97 365.60,284.96 366.00,284.94 366.40,284.93 366.80,284.91 367.00,284.90 367.20,284.89 367.60,284.83 368.00,284.74 368.40,284.61 368.80,284.45 369.20,284.25 369.30,284.20 369.60,283.92 370.00,283.27 370.40,282.44 370.60,282.00 370.80,281.48 371.20,280.19 371.60,279.10 372.00,278.34 372.40,277.79 372.60,277.70 372.80,277.74 373.20,278.01 373.60,278.40 373.80,278.60 374.00,278.80 374.40,279.30 374.80,279.87 375.20,280.42 375.60,280.90 376.00,281.31 376.40,281.70 376.80,282.08 377.20,282.42 377.60,282.73 378.00,283.00 378.40,283.27 378.80,283.53 379.20,283.77 379.60,283.94 380.00,284.00 380.40,283.98 380.80,283.93 381.20,283.85 381.60,283.75 382.00,283.65 382.40,283.54 382.80,283.44 383.00,283.40 383.20,283.36 383.60,283.26 384.00,283.15 384.40,283.03 384.80,282.93 385.20,282.83 385.60,282.76 386.00,282.71 386.30,282.70 386.40,282.70 386.80,282.72 387.20,282.76 387.60,282.82 388.00,282.89 388.40,282.97 388.80,283.06 389.20,283.14 389.50,283.20 389.60,283.22 390.00,283.31 390.40,283.43 390.80,283.55 391.20,283.67 391.60,283.78 392.00,283.88 392.40,283.96 392.70,284.00 392.80,284.01 393.20,284.05 393.60,284.09 394.00,284.13 394.40,284.16 394.80,284.20 395.20,284.23 395.60,284.26 396.00,284.29 396.40,284.32 396.80,284.34 397.20,284.37 397.60,284.39 398.00,284.41 398.40,284.43 398.80,284.44 399.20,284.46 399.60,284.47 400.00,284.48 400.40,284.49 400.80,284.50 401.20,284.50 401.60,284.50 402.00,284.50 402.40,284.49 402.80,284.48 403.20,284.47 403.60,284.45 404.00,284.43 404.40,284.41 404.80,284.38 405.20,284.35 405.60,284.32 406.00,284.29 406.40,284.25 406.80,284.22 407.00,284.20 407.20,284.18 407.60,284.13 408.00,284.07 408.40,284.00 408.80,283.91 409.20,283.82 409.60,283.70 410.00,283.58 410.40,283.44 410.50,283.40 410.80,283.26 411.20,282.98 411.60,282.64 412.00,282.24 412.40,281.81 412.50,281.70 412.80,281.32 413.20,280.69 413.60,280.00 414.00,279.33 414.30,278.90 414.40,278.77 414.80,278.27 415.20,277.80 415.60,277.37 416.00,277.00 416.40,276.70 416.80,276.45 417.20,276.21 417.60,275.97 418.00,275.68 418.10,275.60 418.40,275.30 418.80,274.81 419.20,274.38 419.30,274.30 419.60,274.07 420.00,273.84 420.20,273.80 420.40,273.84 420.80,274.07 421.00,274.20 421.20,274.35 421.60,274.73 422.00,275.10 422.40,275.40 422.80,275.68 423.20,275.93 423.50,276.10 423.60,276.16 424.00,276.40 424.40,276.63 424.80,276.78 425.00,276.80 425.20,276.77 425.60,276.58 426.00,276.30 426.40,275.91 426.80,275.38 427.00,275.10 427.20,274.80 427.60,274.13 428.00,273.41 428.40,272.70 428.80,271.88 429.20,271.07 429.60,270.70 430.00,270.85 430.40,271.15 430.60,271.30 430.80,271.46 431.20,271.82 431.60,272.00 432.00,271.83 432.40,271.55 432.50,271.50 432.80,271.40 433.20,271.28 433.40,271.20 433.60,271.09 434.00,270.76 434.40,270.34 434.80,269.88 435.20,269.42 435.40,269.20 435.60,268.99 436.00,268.58 436.40,268.16 436.80,267.70 437.20,267.07 437.60,266.41 438.00,266.10 438.40,266.49 438.80,267.29 438.90,267.50 439.20,268.24 439.60,269.43 439.80,270.00 440.00,270.56 440.40,271.69 440.70,272.30 440.80,272.44 441.20,272.92 441.60,273.20 442.00,273.35 442.40,273.48 442.80,273.59 443.20,273.69 443.60,273.76 444.00,273.82 444.40,273.87 444.80,273.90 445.20,273.92 445.60,273.94 446.00,273.95 446.40,273.96 446.80,273.97 447.20,273.99 447.40,274.00 447.60,274.02 448.00,274.10 448.40,274.22 448.80,274.37 449.20,274.53 449.60,274.70 450.00,274.89 450.40,275.12 450.80,275.37 451.00,275.50 451.20,275.66 451.60,276.07 452.00,276.46 452.40,276.69 452.50,276.70 452.80,276.54 453.20,275.98 453.60,275.34 453.70,275.20 454.00,274.73 454.40,274.05 454.80,273.62 454.90,273.60 455.20,273.62 455.60,273.67 455.80,273.70 456.00,273.75 456.40,273.91 456.80,274.00 457.20,273.83 457.60,273.44 457.80,273.20 458.00,272.92 458.40,272.09 458.70,271.20 458.80,270.79 459.20,268.10 459.50,265.70 459.60,264.89 460.00,261.14 460.40,257.90 460.80,255.68 461.20,254.20 461.60,253.36 461.90,253.10 462.00,253.19 462.40,254.70 462.60,255.70 462.80,256.92 463.20,259.79 463.30,260.30 463.60,261.44 464.00,262.50 464.40,263.25 464.70,263.50 464.80,263.43 465.20,262.09 465.50,260.70 465.60,260.24 466.00,257.98 466.40,255.50 466.80,252.93 467.20,250.18 467.60,247.46 468.00,245.02 468.30,243.50 468.40,243.06 468.80,241.44 469.20,240.20 469.60,239.20 470.00,238.70 470.40,239.22 470.80,240.20 471.20,241.41 471.50,242.30 471.60,242.54 472.00,243.52 472.40,244.00 472.80,243.20 473.20,241.70 473.60,240.03 474.00,238.02 474.10,237.50 474.40,235.94 474.80,233.76 475.20,231.28 475.50,229.10 475.60,228.25 476.00,223.99 476.40,219.50 476.80,215.25 477.20,211.70 477.60,209.32 477.80,208.60 478.00,208.15 478.30,207.80 478.40,207.84 478.80,208.48 479.00,208.90 479.20,209.48 479.60,210.72 479.70,210.80 480.00,209.58 480.20,208.30 480.40,207.07 480.70,205.10 480.80,204.43 481.20,201.68 481.40,200.80 481.60,200.27 482.00,199.70 482.40,199.94 482.80,200.40 483.00,200.60 483.20,200.77 483.60,201.09 483.80,201.20 484.00,201.27 484.40,201.36 484.80,201.42 485.20,201.48 485.60,201.56 486.00,201.70 486.40,202.10 486.70,202.60 486.80,202.81 487.20,204.05 487.30,204.40 487.60,205.50 488.00,207.16 488.40,208.96 488.60,209.90 488.80,210.84 489.20,212.77 489.60,214.95 489.90,216.90 490.00,217.66 490.40,221.47 490.80,225.70 491.20,230.12 491.60,234.20 492.00,237.65 492.40,239.90 492.80,240.62 493.10,241.00 493.20,241.13 493.60,241.58 493.80,241.90 494.00,242.45 494.40,244.23 494.70,245.70 494.80,246.17 495.20,248.22 495.60,250.25 495.70,250.70 496.00,251.99 496.40,253.62 496.80,255.15 497.20,256.58 497.60,257.90 498.00,259.12 498.40,260.21 498.60,260.70 498.80,261.21 499.20,262.22 499.60,262.70 500.00,262.57 500.40,262.30 500.80,261.94 501.20,261.50 501.60,260.92 502.00,260.39 502.20,260.30 502.40,260.54 502.80,261.85 502.90,262.20 503.20,263.45 503.60,265.10 504.00,266.19 504.40,267.14 504.80,267.98 505.20,268.72 505.60,269.39 506.00,270.00 506.40,270.57 506.80,271.09 507.20,271.58 507.60,272.02 508.00,272.43 508.40,272.80 508.80,273.15 509.20,273.47 509.60,273.76 510.00,274.00 510.40,274.22 510.80,274.43 511.20,274.62 511.60,274.75 512.00,274.80 512.40,274.80 512.80,274.79 513.20,274.77 513.60,274.76 514.00,274.73 514.40,274.71 514.50,274.70 514.80,274.66 515.20,274.58 515.60,274.45 516.00,274.31 516.40,274.15 516.80,274.00 517.20,273.84 517.60,273.67 518.00,273.49 518.40,273.29 518.80,273.09 519.20,272.87 519.50,272.70 519.60,272.64 520.00,272.40 520.40,272.15 520.80,271.88 521.20,271.59 521.60,271.28 521.70,271.20 522.00,270.96 522.40,270.62 522.80,270.27 523.20,269.90 523.60,269.51 524.00,269.09 524.40,268.64 524.80,268.16 525.20,267.64 525.30,267.50 525.60,267.05 526.00,266.35 526.40,265.56 526.80,264.71 527.20,263.82 527.60,262.92 527.70,262.70 528.00,262.00 528.40,261.00 528.80,259.95 529.20,258.90 529.60,257.87 530.00,256.92 530.10,256.70 530.40,256.05 530.80,255.24 531.00,254.90 531.20,254.60 531.60,254.09 532.00,253.60 532.40,253.09 532.80,252.57 533.00,252.30 533.20,252.04 533.60,251.54 534.00,250.90 534.10,250.70 534.40,249.78 534.80,248.07 535.00,247.20 535.20,246.34 535.60,244.53 536.00,242.73 536.10,242.30 536.40,241.05 536.80,239.45 537.00,238.70 537.20,237.94 537.60,236.55 537.70,236.30 538.00,235.68 538.40,235.20 538.80,235.10 538.90,235.10 539.20,235.37 539.50,235.90 539.60,236.10 540.00,237.17 540.10,237.50" fill="none" stroke="#F83838" stroke-width="1.8" stroke-linejoin="round" stroke-linecap="round"/>
<path d="M66.00,193.00 66.40,193.01 66.80,193.01 67.20,193.02 67.60,193.03 68.00,193.03 68.40,193.04 68.80,193.04 69.20,193.05 69.60,193.05 70.00,193.06 70.40,193.06 70.80,193.06 71.20,193.07 71.60,193.07 72.00,193.07 72.40,193.08 72.80,193.08 73.20,193.08 73.60,193.08 74.00,193.09 74.40,193.09 74.80,193.09 75.20,193.09 75.60,193.09 76.00,193.09 76.40,193.10 76.80,193.10 77.20,193.10 77.60,193.10 78.00,193.10 78.40,193.10 78.80,193.10 79.20,193.10 79.60,193.10 80.00,193.10 80.40,193.10 80.80,193.10 81.20,193.10 81.60,193.10 82.00,193.10 82.40,193.10 82.80,193.09 83.20,193.09 83.60,193.09 84.00,193.09 84.40,193.08 84.80,193.08 85.20,193.08 85.60,193.07 86.00,193.07 86.40,193.07 86.80,193.06 87.20,193.06 87.60,193.05 88.00,193.05 88.40,193.04 88.80,193.03 89.20,193.03 89.60,193.02 90.00,193.01 90.40,193.01 90.80,193.00 91.20,192.99 91.60,192.98 92.00,192.97 92.40,192.96 92.80,192.96 93.20,192.95 93.60,192.94 94.00,192.93 94.40,192.92 94.80,192.91 95.20,192.89 95.60,192.88 96.00,192.87 96.40,192.86 96.80,192.85 97.20,192.83 97.60,192.82 98.00,192.81 98.20,192.80 98.40,192.79 98.80,192.77 99.20,192.73 99.60,192.69 100.00,192.63 100.40,192.57 100.80,192.51 101.20,192.43 101.60,192.35 102.00,192.27 102.40,192.18 102.80,192.10 103.20,192.00 103.60,191.91 104.00,191.82 104.40,191.73 104.80,191.64 105.00,191.60 105.20,191.56 105.60,191.46 106.00,191.36 106.40,191.26 106.80,191.15 107.20,191.04 107.60,190.92 108.00,190.80 108.40,190.69 108.80,190.57 109.20,190.45 109.60,190.34 110.00,190.23 110.40,190.12 110.80,190.02 110.90,190.00 111.20,189.93 111.60,189.83 112.00,189.74 112.40,189.64 112.80,189.55 113.20,189.45 113.60,189.36 114.00,189.27 114.40,189.18 114.80,189.09 115.20,189.00 115.60,188.92 116.00,188.83 116.40,188.75 116.80,188.68 117.20,188.61 117.60,188.54 118.00,188.47 118.40,188.41 118.50,188.40 118.80,188.36 119.20,188.31 119.60,188.26 120.00,188.22 120.40,188.18 120.80,188.14 121.20,188.10 121.60,188.06 122.00,188.02 122.40,187.97 122.80,187.93 123.00,187.90 123.20,187.87 123.60,187.81 124.00,187.73 124.40,187.65 124.80,187.56 125.20,187.48 125.60,187.40 126.00,187.33 126.40,187.27 126.80,187.23 127.20,187.20 127.40,187.20 127.60,187.21 128.00,187.25 128.40,187.33 128.80,187.44 129.20,187.56 129.60,187.71 130.00,187.85 130.40,188.00 130.80,188.14 131.00,188.20 131.20,188.26 131.60,188.39 132.00,188.52 132.40,188.65 132.80,188.79 133.20,188.92 133.60,189.06 134.00,189.20 134.40,189.34 134.80,189.49 135.20,189.62 135.60,189.76 136.00,189.90 136.30,190.00 136.40,190.03 136.80,190.17 137.20,190.31 137.60,190.45 138.00,190.59 138.40,190.73 138.80,190.87 139.20,191.02 139.60,191.16 140.00,191.30 140.40,191.44 140.80,191.57 141.20,191.71 141.60,191.84 142.00,191.96 142.40,192.08 142.80,192.20 143.20,192.30 143.60,192.41 144.00,192.50 144.40,192.59 144.80,192.68 145.20,192.76 145.60,192.85 146.00,192.93 146.40,193.00 146.80,193.08 147.20,193.15 147.60,193.21 148.00,193.27 148.40,193.33 148.80,193.38 149.00,193.40 149.20,193.42 149.60,193.47 150.00,193.51 150.40,193.55 150.80,193.58 151.20,193.62 151.60,193.65 152.00,193.69 152.40,193.71 152.80,193.74 153.20,193.76 153.60,193.78 154.00,193.80 154.40,193.81 154.80,193.83 155.20,193.84 155.60,193.86 156.00,193.87 156.40,193.88 156.80,193.89 157.20,193.91 157.60,193.92 158.00,193.93 158.40,193.94 158.80,193.95 159.20,193.96 159.60,193.97 160.00,193.97 160.40,193.98 160.80,193.98 161.20,193.99 161.60,193.99 162.00,194.00 162.40,194.00 162.80,194.00 163.00,194.00 163.20,194.00 163.60,194.00 164.00,194.00 164.40,193.99 164.80,193.99 165.20,193.99 165.60,193.98 166.00,193.97 166.40,193.97 166.80,193.96 167.20,193.95 167.60,193.94 168.00,193.93 168.40,193.92 168.80,193.91 169.20,193.90 169.60,193.88 170.00,193.87 170.40,193.86 170.80,193.84 171.20,193.83 171.60,193.81 172.00,193.80 172.40,193.78 172.80,193.77 173.20,193.74 173.60,193.72 174.00,193.69 174.40,193.66 174.80,193.63 175.20,193.59 175.60,193.55 176.00,193.51 176.40,193.46 176.80,193.41 177.20,193.35 177.50,193.30 177.60,193.28 178.00,193.19 178.40,193.06 178.80,192.90 179.20,192.71 179.60,192.51 180.00,192.30 180.40,192.07 180.80,191.81 181.20,191.49 181.60,191.12 181.80,190.90 182.00,190.65 182.40,189.99 182.80,189.16 183.20,188.21 183.40,187.70 183.60,187.12 184.00,185.70 184.40,184.20 184.80,182.66 185.20,181.20 185.60,179.96 185.80,179.50 186.00,179.16 186.40,178.67 186.50,178.60 186.80,178.48 187.10,178.40 187.20,178.38 187.60,178.30 188.00,178.20 188.40,177.94 188.60,177.70 188.80,177.14 189.10,175.70 189.20,175.14 189.60,172.14 189.70,171.20 190.00,167.57 190.40,161.20 190.80,152.87 190.90,150.70 191.20,144.17 191.60,135.70 192.00,128.21 192.20,124.70 192.40,120.62 192.80,114.90 193.10,125.70 193.20,130.86 193.40,140.70 193.60,145.03 194.00,150.70 194.40,155.84 194.80,160.21 194.90,161.20 195.20,164.05 195.60,167.49 196.00,170.20 196.40,172.21 196.80,173.85 197.20,175.20 197.60,176.42 198.00,177.44 198.30,177.90 198.40,178.00 198.80,178.31 199.10,178.40 199.20,178.39 199.60,178.08 200.00,177.50 200.40,176.17 200.80,174.20 201.20,172.35 201.50,170.20 201.60,168.83 202.00,158.70 202.40,145.70 202.80,133.29 202.85,133.00 203.20,143.23 203.30,146.70 203.60,155.36 203.80,160.30 204.00,164.20 204.40,170.70 204.80,176.49 204.90,177.70 205.20,180.93 205.40,182.50 205.60,183.63 206.00,185.56 206.40,187.08 206.80,188.24 207.00,188.70 207.20,189.10 207.60,189.79 208.00,190.35 208.40,190.80 208.50,190.90 208.80,191.17 209.20,191.49 209.60,191.77 210.00,192.00 210.20,192.10 210.40,192.20 210.80,192.38 211.20,192.54 211.60,192.69 212.00,192.83 212.40,192.95 212.80,193.05 213.00,193.10 213.20,193.14 213.60,193.24 214.00,193.32 214.40,193.41 214.80,193.49 215.20,193.56 215.60,193.62 216.00,193.66 216.40,193.69 216.80,193.70 217.20,193.70 217.60,193.70 218.00,193.69 218.40,193.69 218.80,193.68 219.20,193.67 219.60,193.67 220.00,193.66 220.40,193.65 220.80,193.64 221.20,193.62 221.60,193.61 222.00,193.60 222.40,193.59 222.80,193.57 223.20,193.56 223.60,193.55 224.00,193.53 224.40,193.52 224.80,193.51 225.00,193.50 225.20,193.49 225.60,193.48 226.00,193.46 226.40,193.44 226.80,193.42 227.20,193.40 227.60,193.37 228.00,193.35 228.40,193.32 228.80,193.30 229.20,193.27 229.60,193.24 230.00,193.22 230.40,193.19 230.80,193.17 231.20,193.14 231.60,193.12 232.00,193.10 232.40,193.08 232.80,193.06 233.20,193.04 233.60,193.03 234.00,193.02 234.40,193.01 234.80,193.00 235.20,193.00 235.30,193.00 235.60,193.00 236.00,193.00 236.40,193.00 236.80,193.01 237.20,193.01 237.60,193.01 238.00,193.02 238.40,193.03 238.80,193.03 239.20,193.04 239.60,193.05 240.00,193.06 240.40,193.06 240.80,193.07 241.20,193.08 241.60,193.10 242.00,193.11 242.40,193.12 242.80,193.13 243.20,193.14 243.60,193.16 244.00,193.17 244.40,193.18 244.80,193.20 245.20,193.21 245.60,193.23 246.00,193.24 246.40,193.25 246.80,193.27 247.20,193.28 247.60,193.30 248.00,193.32 248.40,193.33 248.80,193.35 249.20,193.36 249.60,193.38 250.00,193.39 250.40,193.41 250.80,193.42 251.20,193.44 251.60,193.45 252.00,193.47 252.40,193.48 252.80,193.49 253.00,193.50 253.20,193.51 253.60,193.52 254.00,193.54 254.40,193.55 254.80,193.57 255.20,193.58 255.60,193.60 256.00,193.61 256.40,193.63 256.80,193.65 257.20,193.66 257.60,193.68 258.00,193.70 258.40,193.72 258.80,193.73 259.20,193.75 259.60,193.77 260.00,193.79 260.40,193.81 260.80,193.82 261.20,193.84 261.60,193.86 262.00,193.88 262.40,193.89 262.80,193.91 263.20,193.93 263.60,193.94 264.00,193.96 264.40,193.98 264.80,193.99 265.00,194.00 265.20,194.01 265.60,194.02 266.00,194.04 266.40,194.06 266.80,194.08 267.20,194.10 267.60,194.12 268.00,194.13 268.40,194.15 268.80,194.17 269.20,194.19 269.60,194.21 270.00,194.22 270.40,194.24 270.80,194.25 271.20,194.27 271.60,194.28 272.00,194.29 272.40,194.29 272.80,194.30 273.20,194.30 273.40,194.30 273.60,194.29 274.00,194.23 274.40,194.12 274.80,193.97 275.20,193.82 275.50,193.70 275.60,193.66 276.00,193.41 276.40,193.11 276.80,192.85 277.20,192.71 277.30,192.70 277.60,192.77 278.00,193.00 278.40,193.27 278.80,193.47 279.00,193.50 279.20,193.48 279.60,193.36 280.00,193.20 280.40,193.11 280.50,193.10 280.80,193.12 281.20,193.19 281.60,193.30 282.00,193.43 282.40,193.57 282.80,193.68 283.20,193.77 283.60,193.80 284.00,193.80 284.40,193.79 284.80,193.77 285.20,193.76 285.60,193.73 286.00,193.71 286.40,193.68 286.80,193.65 287.20,193.62 287.60,193.59 288.00,193.55 288.40,193.52 288.80,193.49 289.20,193.46 289.60,193.43 290.00,193.40 290.40,193.37 290.80,193.35 291.20,193.32 291.60,193.30 292.00,193.27 292.40,193.25 292.80,193.22 293.20,193.20 293.60,193.17 294.00,193.15 294.40,193.12 294.80,193.10 295.20,193.07 295.60,193.04 296.00,193.02 296.30,193.00 296.40,192.99 296.80,192.97 297.20,192.94 297.60,192.92 298.00,192.90 298.40,192.87 298.80,192.85 299.20,192.82 299.60,192.80 300.00,192.77 300.40,192.74 300.80,192.72 301.00,192.70 301.20,192.68 301.60,192.66 302.00,192.63 302.40,192.60 302.80,192.57 303.20,192.54 303.60,192.50 304.00,192.46 304.40,192.41 304.80,192.36 305.20,192.30 305.60,192.21 306.00,192.09 306.40,191.94 306.80,191.78 307.00,191.70 307.20,191.61 307.60,191.37 308.00,191.16 308.30,191.10 308.40,191.11 308.80,191.30 309.20,191.63 309.60,191.97 309.80,192.10 310.00,192.21 310.40,192.45 310.80,192.70 311.20,192.93 311.60,193.14 312.00,193.32 312.40,193.44 312.80,193.50 312.90,193.50 313.20,193.50 313.60,193.50 314.00,193.50 314.40,193.50 314.80,193.50 315.20,193.50 315.60,193.50 316.00,193.50 316.40,193.50 316.80,193.50 317.00,193.50 317.20,193.50 317.60,193.50 318.00,193.49 318.40,193.48 318.80,193.47 319.20,193.45 319.60,193.44 320.00,193.42 320.40,193.39 320.80,193.37 321.20,193.34 321.60,193.31 321.80,193.30 322.00,193.28 322.40,193.22 322.80,193.13 323.20,193.03 323.60,192.91 324.00,192.79 324.40,192.67 324.80,192.55 325.00,192.50 325.20,192.45 325.60,192.32 326.00,192.19 326.40,192.05 326.80,191.92 327.20,191.82 327.60,191.74 328.00,191.70 328.10,191.70 328.40,191.70 328.80,191.72 329.20,191.75 329.60,191.79 330.00,191.84 330.40,191.89 330.50,191.90 330.80,191.95 331.20,192.05 331.60,192.16 332.00,192.29 332.40,192.39 332.80,192.47 333.20,192.50 333.60,192.47 334.00,192.40 334.40,192.32 334.80,192.23 335.00,192.20 335.20,192.17 335.60,192.10 336.00,192.04 336.40,192.00 336.50,192.00 336.80,192.01 337.20,192.07 337.60,192.15 338.00,192.26 338.40,192.39 338.80,192.53 339.20,192.66 339.60,192.79 340.00,192.90 340.40,193.00 340.80,193.10 341.20,193.20 341.60,193.30 342.00,193.40 342.40,193.50 342.80,193.59 343.20,193.69 343.60,193.78 344.00,193.86 344.40,193.94 344.70,194.00 344.80,194.02 345.20,194.09 345.60,194.16 346.00,194.23 346.40,194.30 346.80,194.36 347.20,194.43 347.60,194.49 348.00,194.55 348.40,194.61 348.80,194.67 349.20,194.72 349.60,194.78 350.00,194.84 350.40,194.89 350.80,194.94 351.20,195.00 351.60,195.05 352.00,195.10 352.40,195.15 352.80,195.20 353.20,195.25 353.60,195.31 354.00,195.36 354.40,195.41 354.80,195.46 355.20,195.51 355.60,195.56 356.00,195.60 356.40,195.65 356.80,195.69 357.20,195.74 357.60,195.78 358.00,195.82 358.40,195.86 358.80,195.90 359.20,195.93 359.60,195.97 360.00,196.00 360.40,196.03 360.80,196.06 361.20,196.10 361.60,196.13 362.00,196.16 362.40,196.19 362.80,196.22 363.20,196.24 363.60,196.26 364.00,196.28 364.40,196.29 364.80,196.30 365.00,196.30 365.20,196.30 365.60,196.27 366.00,196.22 366.40,196.15 366.80,196.07 367.20,195.98 367.50,195.90 367.60,195.87 368.00,195.72 368.40,195.48 368.50,195.40 368.80,195.00 369.20,194.08 369.50,193.20 369.60,192.86 370.00,190.98 370.20,189.70 370.40,187.89 370.80,182.64 371.10,178.40 371.20,177.04 371.60,171.31 372.00,165.50 372.10,164.10 372.40,159.82 372.80,154.24 373.10,150.70 373.20,149.62 373.60,145.33 373.90,143.90 374.00,144.13 374.40,148.10 374.60,150.70 374.80,153.59 375.20,160.72 375.40,164.10 375.60,167.23 376.00,173.34 376.40,178.40 376.80,182.47 377.20,186.05 377.60,188.78 377.80,189.70 378.00,190.41 378.40,191.58 378.80,192.41 379.00,192.70 379.20,192.93 379.60,193.34 380.00,193.68 380.40,193.96 380.80,194.19 381.20,194.36 381.30,194.40 381.60,194.50 382.00,194.61 382.40,194.71 382.80,194.80 383.20,194.87 383.60,194.94 384.00,195.01 384.40,195.09 384.80,195.18 384.90,195.20 385.20,195.28 385.60,195.38 386.00,195.50 386.40,195.61 386.80,195.72 387.20,195.83 387.60,195.92 388.00,196.00 388.40,196.07 388.80,196.14 389.20,196.21 389.60,196.27 390.00,196.34 390.40,196.39 390.80,196.44 391.20,196.47 391.60,196.49 392.00,196.50 392.40,196.49 392.80,196.48 393.20,196.46 393.60,196.43 394.00,196.40 394.40,196.37 394.80,196.34 395.20,196.32 395.60,196.31 396.00,196.30 396.40,196.30 396.80,196.30 397.20,196.30 397.60,196.30 398.00,196.30 398.40,196.30 398.80,196.30 399.20,196.30 399.60,196.30 400.00,196.30 400.40,196.30 400.80,196.30 401.00,196.30 401.20,196.30 401.60,196.31 402.00,196.32 402.40,196.34 402.80,196.36 403.20,196.38 403.60,196.41 404.00,196.43 404.40,196.45 404.80,196.47 405.20,196.49 405.60,196.50 406.00,196.50 406.40,196.50 406.80,196.50 407.20,196.50 407.60,196.50 408.00,196.50 408.40,196.50 408.80,196.50 409.20,196.50 409.60,196.50 410.00,196.50 410.40,196.50 410.80,196.39 411.20,196.09 411.60,195.65 412.00,195.10 412.40,194.25 412.80,192.79 413.10,191.20 413.20,190.37 413.60,184.26 413.70,182.50 414.00,176.02 414.10,174.20 414.40,169.95 414.50,169.50 414.80,172.00 414.90,173.20 415.20,177.83 415.30,178.70 415.60,179.62 416.00,180.31 416.40,180.90 416.80,181.58 417.20,182.21 417.60,182.86 418.00,183.60 418.40,184.51 418.80,185.57 419.20,186.68 419.60,187.75 419.70,188.00 420.00,188.76 420.40,189.78 420.80,190.75 421.20,191.61 421.30,191.80 421.60,192.40 422.00,193.16 422.40,193.50 422.80,193.13 423.20,192.35 423.50,191.80 423.60,191.64 424.00,190.89 424.40,190.29 424.60,190.20 424.80,190.24 425.20,190.48 425.60,190.69 425.70,190.70 426.00,190.58 426.40,190.16 426.80,189.60 427.20,188.66 427.60,187.49 427.90,186.90 428.00,186.79 428.40,186.39 428.80,186.14 429.00,186.10 429.20,186.15 429.60,186.52 430.00,187.07 430.40,187.60 430.60,187.80 430.80,187.98 431.20,188.34 431.60,188.67 432.00,188.87 432.20,188.90 432.40,188.87 432.80,188.66 433.20,188.34 433.60,188.00 433.90,187.80 434.00,187.74 434.40,187.50 434.80,187.29 435.20,187.20 435.60,187.32 436.00,187.56 436.40,187.77 436.60,187.80 436.80,187.75 437.20,187.45 437.60,187.08 438.00,186.90 438.40,187.10 438.80,187.52 439.20,187.93 439.30,188.00 439.60,188.19 440.00,188.42 440.40,188.58 440.60,188.60 440.80,188.59 441.20,188.54 441.60,188.44 442.00,188.29 442.40,188.10 442.80,187.61 443.20,186.73 443.60,185.70 444.00,184.48 444.40,182.99 444.80,181.43 445.00,180.70 445.20,179.96 445.60,178.38 446.00,176.77 446.40,175.30 446.80,174.13 447.00,173.70 447.20,173.34 447.60,172.64 448.00,172.08 448.40,171.75 448.60,171.70 448.80,171.75 449.20,172.10 449.60,172.70 450.00,173.44 450.40,174.20 450.80,175.17 451.20,176.44 451.60,177.78 452.00,178.95 452.40,179.70 452.80,180.15 453.20,180.53 453.60,180.80 454.00,180.90 454.40,180.79 454.80,180.48 455.20,180.00 455.60,179.40 456.00,178.70 456.40,177.42 456.80,175.59 457.00,174.70 457.20,173.91 457.60,172.40 458.00,170.76 458.40,168.70 458.80,165.67 459.20,161.77 459.50,158.70 459.60,157.66 460.00,153.05 460.40,148.70 460.80,145.01 461.20,141.85 461.30,141.20 461.60,139.22 462.00,137.70 462.40,139.85 462.60,141.70 462.80,144.04 463.10,148.70 463.20,150.46 463.60,159.03 464.00,166.70 464.40,171.94 464.80,175.70 465.20,178.39 465.60,179.70 466.00,179.51 466.30,179.20 466.40,179.02 466.80,177.57 467.00,176.70 467.20,175.79 467.60,173.70 468.00,171.70 468.40,169.75 468.80,168.11 469.00,167.70 469.20,167.50 469.60,167.21 470.00,167.10 470.40,167.82 470.80,169.20 471.20,171.02 471.60,172.70 472.00,173.70 472.40,174.53 472.80,175.03 473.00,175.10 473.20,174.98 473.60,174.22 473.80,173.70 474.00,172.95 474.40,170.70 474.80,168.02 475.20,164.89 475.60,161.66 476.00,158.70 476.40,156.01 476.80,153.70 477.20,151.71 477.40,151.30 477.60,151.53 478.00,152.90 478.20,153.70 478.40,154.62 478.80,156.84 479.00,157.70 479.20,158.39 479.60,159.51 479.80,159.70 480.00,159.30 480.40,157.70 480.80,156.54 481.00,156.30 481.20,156.48 481.60,157.45 481.70,157.70 482.00,158.49 482.40,159.70 482.80,160.96 483.20,162.28 483.60,163.65 484.00,165.05 484.40,166.50 484.80,167.96 485.00,168.70 485.20,169.45 485.60,170.97 486.00,172.53 486.40,174.13 486.80,175.75 487.20,177.39 487.60,179.04 488.00,180.70 488.40,182.48 488.80,184.32 489.20,186.00 489.40,186.70 489.60,187.38 490.00,188.69 490.40,189.30 490.80,189.26 491.20,189.16 491.40,189.10 491.60,189.00 492.00,188.68 492.40,188.50 492.80,188.69 493.20,189.10 493.60,189.88 493.90,190.70 494.00,191.00 494.40,192.56 494.80,194.14 495.00,194.70 495.20,195.13 495.60,195.88 496.00,196.52 496.40,197.06 496.80,197.50 497.00,197.70 497.20,197.89 497.60,198.27 498.00,198.62 498.40,198.93 498.80,199.16 499.20,199.28 499.40,199.30 499.60,199.27 500.00,199.07 500.40,198.75 500.80,198.38 501.00,198.20 501.20,197.99 501.60,197.44 502.00,196.93 502.40,196.70 502.80,197.09 503.20,197.87 503.40,198.20 503.60,198.50 504.00,199.12 504.40,199.50 504.80,199.64 505.20,199.70 505.60,199.56 506.00,199.24 506.40,198.86 506.80,198.54 507.20,198.40 507.60,198.42 508.00,198.46 508.40,198.53 508.80,198.60 509.20,198.67 509.40,198.70 509.60,198.73 510.00,198.78 510.40,198.84 510.80,198.89 511.20,198.95 511.60,199.01 512.00,199.07 512.40,199.14 512.70,199.20 512.80,199.22 513.20,199.34 513.60,199.49 514.00,199.65 514.40,199.82 514.80,199.98 515.20,200.10 515.60,200.18 515.90,200.20 516.00,200.20 516.40,200.16 516.80,200.09 517.20,199.99 517.60,199.86 518.00,199.73 518.10,199.70 518.40,199.58 518.80,199.39 519.20,199.15 519.60,198.88 520.00,198.61 520.30,198.40 520.40,198.33 520.80,198.03 521.20,197.70 521.60,197.35 522.00,197.00 522.40,196.66 522.80,196.34 523.00,196.20 523.20,196.07 523.60,195.83 524.00,195.62 524.40,195.41 524.80,195.20 525.20,194.96 525.60,194.67 525.80,194.50 526.00,194.31 526.40,193.85 526.80,193.20 527.20,192.07 527.40,191.20 527.60,189.73 527.90,186.70 528.00,185.74 528.30,182.50 528.40,181.03 528.80,174.20 529.20,169.06 529.30,168.70 529.60,171.70 529.90,177.10 530.00,178.51 530.40,183.55 530.70,185.80 530.80,186.19 531.20,187.42 531.60,188.21 531.80,188.50 532.00,188.76 532.40,189.23 532.80,189.63 533.20,189.90 533.60,190.00 534.00,189.85 534.40,189.46 534.80,188.91 535.20,188.30 535.40,188.00 535.60,187.65 536.00,186.73 536.40,185.80 536.70,185.30 536.80,185.18 537.20,184.71 537.60,184.50 538.00,184.69 538.40,185.14 538.80,185.68 538.90,185.80 539.20,186.19 539.60,186.78 539.80,187.10" fill="none" stroke="#1270E6" stroke-width="1.8" stroke-linejoin="round" stroke-linecap="round"/>
<path d="M66.00,112.80 66.40,112.80 66.80,112.80 67.20,112.79 67.60,112.79 68.00,112.79 68.40,112.79 68.80,112.78 69.20,112.78 69.60,112.78 70.00,112.78 70.40,112.77 70.80,112.77 71.20,112.77 71.60,112.77 72.00,112.76 72.40,112.76 72.80,112.76 73.20,112.75 73.60,112.75 74.00,112.75 74.40,112.75 74.80,112.74 75.20,112.74 75.60,112.74 76.00,112.73 76.40,112.73 76.80,112.73 77.20,112.72 77.60,112.72 78.00,112.72 78.40,112.71 78.80,112.71 79.20,112.71 79.60,112.70 80.00,112.70 80.40,112.70 80.80,112.69 81.20,112.69 81.60,112.68 82.00,112.68 82.40,112.68 82.80,112.67 83.20,112.67 83.60,112.67 84.00,112.66 84.40,112.66 84.80,112.65 85.20,112.65 85.60,112.65 86.00,112.64 86.40,112.64 86.80,112.63 87.20,112.63 87.60,112.63 88.00,112.62 88.40,112.62 88.80,112.61 89.20,112.61 89.60,112.60 90.00,112.60 90.40,112.60 90.80,112.59 91.20,112.59 91.60,112.58 92.00,112.58 92.40,112.57 92.80,112.56 93.20,112.56 93.60,112.55 94.00,112.54 94.40,112.54 94.80,112.53 95.20,112.52 95.60,112.52 96.00,112.51 96.40,112.50 96.80,112.49 97.20,112.49 97.60,112.48 98.00,112.47 98.40,112.46 98.80,112.45 99.20,112.45 99.60,112.44 100.00,112.43 100.40,112.42 100.80,112.42 101.20,112.41 101.60,112.40 102.00,112.39 102.40,112.39 102.80,112.38 103.20,112.37 103.60,112.37 104.00,112.36 104.40,112.36 104.80,112.35 105.20,112.34 105.60,112.34 106.00,112.33 106.40,112.33 106.80,112.32 107.20,112.32 107.60,112.32 108.00,112.31 108.40,112.31 108.80,112.31 109.20,112.30 109.60,112.30 110.00,112.30 110.40,112.30 110.80,112.30 111.00,112.30 111.20,112.30 111.60,112.30 112.00,112.30 112.40,112.31 112.80,112.31 113.20,112.32 113.60,112.32 114.00,112.33 114.40,112.34 114.80,112.34 115.20,112.35 115.60,112.36 116.00,112.37 116.40,112.38 116.80,112.40 117.20,112.41 117.60,112.42 118.00,112.44 118.40,112.45 118.80,112.46 119.20,112.48 119.60,112.49 120.00,112.51 120.40,112.52 120.80,112.54 121.20,112.56 121.60,112.57 122.00,112.59 122.40,112.61 122.80,112.62 123.20,112.64 123.60,112.66 124.00,112.67 124.40,112.69 124.80,112.71 125.20,112.72 125.60,112.74 126.00,112.76 126.40,112.77 126.80,112.79 127.20,112.80 127.60,112.82 128.00,112.83 128.40,112.85 128.80,112.86 129.20,112.87 129.60,112.89 130.00,112.90 130.40,112.91 130.80,112.93 131.20,112.94 131.60,112.95 132.00,112.97 132.40,112.98 132.80,113.00 133.20,113.01 133.60,113.03 134.00,113.04 134.40,113.06 134.80,113.07 135.20,113.09 135.60,113.10 136.00,113.12 136.40,113.13 136.80,113.15 137.20,113.16 137.60,113.17 138.00,113.19 138.40,113.20 138.80,113.21 139.20,113.22 139.60,113.23 140.00,113.25 140.40,113.25 140.80,113.26 141.20,113.27 141.60,113.28 142.00,113.29 142.40,113.29 142.80,113.29 143.20,113.30 143.60,113.30 144.00,113.30 144.40,113.30 144.80,113.30 145.20,113.30 145.60,113.30 146.00,113.29 146.40,113.29 146.80,113.29 147.20,113.29 147.60,113.28 148.00,113.28 148.40,113.28 148.80,113.27 149.20,113.27 149.60,113.26 150.00,113.26 150.40,113.25 150.80,113.24 151.20,113.24 151.60,113.23 152.00,113.23 152.40,113.22 152.80,113.21 153.20,113.20 153.60,113.20 154.00,113.19 154.40,113.18 154.80,113.17 155.20,113.16 155.60,113.15 156.00,113.14 156.40,113.13 156.80,113.12 157.20,113.11 157.60,113.10 158.00,113.09 158.40,113.08 158.80,113.07 159.20,113.06 159.60,113.05 160.00,113.04 160.40,113.03 160.80,113.02 161.20,113.01 161.60,113.00 162.00,112.99 162.40,112.97 162.80,112.96 163.20,112.95 163.60,112.94 164.00,112.93 164.40,112.92 164.80,112.91 165.00,112.90 165.20,112.89 165.60,112.88 166.00,112.87 166.40,112.86 166.80,112.85 167.20,112.84 167.60,112.82 168.00,112.81 168.40,112.80 168.80,112.78 169.20,112.77 169.60,112.76 170.00,112.74 170.40,112.73 170.80,112.71 171.20,112.69 171.60,112.68 172.00,112.66 172.40,112.64 172.80,112.62 173.20,112.60 173.60,112.58 174.00,112.55 174.40,112.53 174.80,112.50 175.20,112.48 175.60,112.45 176.00,112.42 176.40,112.39 176.80,112.36 177.20,112.33 177.60,112.29 178.00,112.26 178.40,112.22 178.80,112.18 179.20,112.14 179.60,112.10 180.00,112.05 180.40,111.98 180.80,111.89 181.20,111.79 181.60,111.67 182.00,111.53 182.40,111.38 182.80,111.22 183.20,111.04 183.60,110.85 183.90,110.70 184.00,110.65 184.40,110.39 184.80,110.06 185.20,109.67 185.60,109.22 186.00,108.73 186.40,108.20 186.80,107.53 187.20,106.71 187.40,106.30 187.60,105.89 188.00,105.06 188.40,104.18 188.60,103.70 188.80,103.24 189.20,102.28 189.50,101.20 189.60,100.63 190.00,96.49 190.40,90.70 190.80,83.18 191.00,78.70 191.20,73.65 191.60,62.70 192.00,52.86 192.30,45.70 192.40,43.21 192.80,33.90 193.10,29.80 193.20,30.53 193.40,33.90 193.60,37.10 194.00,44.04 194.10,45.70 194.40,50.48 194.80,56.67 195.20,62.70 195.60,68.82 196.00,74.49 196.10,75.70 196.40,78.89 196.80,82.59 197.00,84.40 197.20,86.31 197.60,90.13 198.00,93.20 198.40,95.44 198.80,97.27 199.20,98.50 199.60,99.32 200.00,99.70 200.40,98.93 200.60,98.20 200.80,96.98 201.20,93.20 201.60,89.37 202.00,84.40 202.40,75.70 202.70,62.70 202.80,56.38 203.00,43.70 203.20,36.21 203.30,34.80 203.60,43.70 204.00,55.22 204.20,60.70 204.40,66.00 204.80,75.70 205.20,83.77 205.50,88.70 205.60,90.08 206.00,94.84 206.20,96.70 206.40,98.30 206.80,100.95 207.00,101.90 207.20,102.64 207.60,103.83 208.00,104.70 208.40,105.34 208.80,105.85 209.20,106.30 209.60,106.73 210.00,107.13 210.40,107.50 210.80,107.84 211.00,108.00 211.20,108.15 211.60,108.45 212.00,108.74 212.40,108.99 212.80,109.21 213.00,109.30 213.20,109.38 213.60,109.54 214.00,109.70 214.40,109.84 214.80,109.97 215.20,110.10 215.60,110.21 216.00,110.32 216.40,110.42 216.80,110.51 217.20,110.59 217.60,110.67 217.80,110.70 218.00,110.73 218.40,110.80 218.80,110.86 219.20,110.92 219.60,110.98 220.00,111.04 220.40,111.09 220.80,111.14 221.20,111.19 221.60,111.24 222.00,111.28 222.40,111.32 222.80,111.36 223.20,111.39 223.60,111.42 224.00,111.45 224.40,111.47 224.80,111.49 225.00,111.50 225.20,111.51 225.60,111.52 226.00,111.54 226.40,111.55 226.80,111.56 227.20,111.58 227.60,111.59 228.00,111.60 228.40,111.61 228.80,111.62 229.20,111.63 229.60,111.64 230.00,111.65 230.40,111.65 230.80,111.66 231.20,111.67 231.60,111.68 232.00,111.68 232.40,111.69 232.80,111.70 233.20,111.70 233.60,111.71 234.00,111.72 234.40,111.72 234.80,111.73 235.20,111.74 235.60,111.75 236.00,111.75 236.40,111.76 236.80,111.77 237.20,111.78 237.60,111.79 238.00,111.80 238.40,111.81 238.80,111.82 239.20,111.83 239.60,111.84 240.00,111.85 240.40,111.86 240.80,111.88 241.20,111.89 241.60,111.90 242.00,111.91 242.40,111.92 242.80,111.93 243.20,111.95 243.60,111.96 244.00,111.97 244.40,111.98 244.80,111.99 245.20,112.01 245.60,112.02 246.00,112.03 246.40,112.04 246.80,112.05 247.20,112.07 247.60,112.08 248.00,112.09 248.40,112.10 248.80,112.12 249.20,112.13 249.60,112.14 250.00,112.15 250.40,112.16 250.80,112.18 251.20,112.19 251.60,112.20 252.00,112.21 252.40,112.23 252.80,112.24 253.20,112.25 253.60,112.26 254.00,112.27 254.40,112.28 254.80,112.29 255.00,112.30 255.20,112.31 255.60,112.32 256.00,112.33 256.40,112.34 256.80,112.35 257.20,112.37 257.60,112.38 258.00,112.39 258.40,112.41 258.80,112.42 259.20,112.43 259.60,112.45 260.00,112.46 260.40,112.48 260.80,112.49 261.20,112.51 261.60,112.52 262.00,112.53 262.40,112.55 262.80,112.56 263.20,112.58 263.60,112.59 264.00,112.60 264.40,112.62 264.80,112.63 265.20,112.64 265.60,112.65 266.00,112.67 266.40,112.68 266.80,112.69 267.20,112.70 267.60,112.71 268.00,112.72 268.40,112.73 268.80,112.74 269.20,112.75 269.60,112.76 270.00,112.76 270.40,112.77 270.80,112.78 271.20,112.78 271.60,112.79 272.00,112.79 272.40,112.79 272.80,112.80 273.20,112.80 273.60,112.80 273.80,112.80 274.00,112.80 274.40,112.76 274.80,112.70 275.20,112.62 275.60,112.52 276.00,112.41 276.40,112.30 276.80,112.19 277.20,112.08 277.60,111.98 278.00,111.90 278.40,111.84 278.80,111.80 279.00,111.80 279.20,111.80 279.60,111.83 280.00,111.87 280.40,111.93 280.80,112.01 281.20,112.09 281.60,112.17 282.00,112.25 282.40,112.33 282.80,112.40 283.20,112.45 283.60,112.49 284.00,112.50 284.40,112.50 284.80,112.50 285.20,112.50 285.60,112.49 286.00,112.49 286.40,112.49 286.80,112.48 287.20,112.48 287.60,112.47 288.00,112.47 288.40,112.46 288.80,112.46 289.20,112.45 289.60,112.44 290.00,112.44 290.40,112.43 290.80,112.42 291.20,112.41 291.60,112.41 292.00,112.40 292.40,112.39 292.80,112.39 293.20,112.38 293.60,112.37 294.00,112.36 294.40,112.36 294.80,112.35 295.20,112.34 295.60,112.34 296.00,112.33 296.40,112.33 296.80,112.32 297.20,112.32 297.60,112.31 298.00,112.31 298.40,112.31 298.80,112.30 299.20,112.30 299.60,112.30 300.00,112.30 300.40,112.30 300.80,112.30 301.20,112.30 301.60,112.30 302.00,112.30 302.40,112.30 302.80,112.31 303.20,112.31 303.60,112.31 304.00,112.31 304.40,112.31 304.80,112.31 305.20,112.32 305.60,112.32 306.00,112.32 306.40,112.32 306.80,112.33 307.20,112.33 307.60,112.33 308.00,112.34 308.40,112.34 308.80,112.34 309.20,112.34 309.60,112.35 310.00,112.35 310.40,112.35 310.80,112.36 311.20,112.36 311.60,112.36 312.00,112.36 312.40,112.37 312.80,112.37 313.20,112.37 313.60,112.38 314.00,112.38 314.40,112.38 314.80,112.38 315.20,112.39 315.60,112.39 316.00,112.39 316.40,112.39 316.80,112.39 317.20,112.39 317.60,112.40 318.00,112.40 318.40,112.40 318.80,112.40 319.20,112.40 319.60,112.40 320.00,112.40 320.40,112.40 320.80,112.40 321.20,112.40 321.60,112.40 322.00,112.40 322.40,112.40 322.80,112.39 323.20,112.39 323.60,112.39 324.00,112.39 324.40,112.39 324.80,112.39 325.20,112.38 325.60,112.38 326.00,112.38 326.40,112.38 326.80,112.37 327.20,112.37 327.60,112.37 328.00,112.36 328.40,112.36 328.80,112.36 329.20,112.36 329.60,112.35 330.00,112.35 330.40,112.35 330.80,112.34 331.20,112.34 331.60,112.34 332.00,112.34 332.40,112.33 332.80,112.33 333.20,112.33 333.60,112.32 334.00,112.32 334.40,112.32 334.80,112.32 335.20,112.31 335.60,112.31 336.00,112.31 336.40,112.31 336.80,112.31 337.20,112.31 337.60,112.30 338.00,112.30 338.40,112.30 338.80,112.30 339.20,112.30 339.60,112.30 340.00,112.30 340.40,112.30 340.80,112.30 341.20,112.30 341.60,112.30 342.00,112.30 342.40,112.30 342.80,112.31 343.20,112.31 343.60,112.31 344.00,112.31 344.40,112.31 344.80,112.31 345.20,112.32 345.60,112.32 346.00,112.32 346.40,112.32 346.80,112.33 347.20,112.33 347.60,112.33 348.00,112.34 348.40,112.34 348.80,112.34 349.20,112.34 349.60,112.35 350.00,112.35 350.40,112.35 350.80,112.36 351.20,112.36 351.60,112.36 352.00,112.36 352.40,112.37 352.80,112.37 353.20,112.37 353.60,112.38 354.00,112.38 354.40,112.38 354.80,112.38 355.20,112.39 355.60,112.39 356.00,112.39 356.40,112.39 356.80,112.39 357.20,112.39 357.60,112.40 358.00,112.40 358.40,112.40 358.80,112.40 359.20,112.40 359.60,112.40 360.00,112.40 360.40,112.40 360.80,112.40 361.20,112.39 361.60,112.39 362.00,112.38 362.40,112.37 362.80,112.36 363.20,112.34 363.60,112.33 364.00,112.31 364.40,112.29 364.80,112.27 365.20,112.24 365.60,112.22 366.00,112.19 366.40,112.15 366.80,112.12 367.20,112.08 367.60,112.04 368.00,112.00 368.40,111.90 368.80,111.71 369.20,111.44 369.60,111.10 370.00,110.72 370.40,110.31 370.50,110.20 370.80,109.77 371.20,108.99 371.60,108.16 372.00,107.50 372.40,106.97 372.80,106.56 373.00,106.50 373.20,106.56 373.60,106.97 374.00,107.50 374.40,108.16 374.80,108.99 375.20,109.77 375.50,110.20 375.60,110.31 376.00,110.70 376.40,111.05 376.80,111.34 377.20,111.57 377.50,111.70 377.60,111.74 378.00,111.88 378.40,112.01 378.80,112.12 379.20,112.21 379.60,112.27 380.00,112.30 380.40,112.31 380.80,112.32 381.20,112.34 381.60,112.35 382.00,112.36 382.40,112.37 382.80,112.37 383.20,112.38 383.60,112.39 384.00,112.40 384.40,112.40 384.80,112.41 385.20,112.42 385.60,112.42 386.00,112.43 386.40,112.43 386.80,112.44 387.20,112.44 387.60,112.45 388.00,112.45 388.40,112.45 388.80,112.46 389.20,112.46 389.60,112.46 390.00,112.46 390.40,112.47 390.80,112.47 391.20,112.47 391.60,112.48 392.00,112.48 392.40,112.48 392.80,112.48 393.20,112.49 393.60,112.49 394.00,112.49 394.40,112.50 394.80,112.50 395.00,112.50 395.20,112.50 395.60,112.51 396.00,112.51 396.40,112.51 396.80,112.52 397.20,112.52 397.60,112.52 398.00,112.53 398.40,112.53 398.80,112.53 399.20,112.54 399.60,112.54 400.00,112.54 400.40,112.55 400.80,112.55 401.20,112.55 401.60,112.56 402.00,112.56 402.40,112.56 402.80,112.57 403.20,112.57 403.60,112.57 404.00,112.57 404.40,112.58 404.80,112.58 405.20,112.58 405.60,112.58 406.00,112.59 406.40,112.59 406.80,112.59 407.20,112.59 407.60,112.59 408.00,112.59 408.40,112.60 408.80,112.60 409.20,112.60 409.60,112.60 410.00,112.60 410.40,112.60 410.80,112.60 410.90,112.60 411.20,112.57 411.60,112.44 412.00,112.20 412.40,111.85 412.70,111.50 412.80,111.28 413.20,108.78 413.40,106.70 413.60,102.37 413.80,95.70 414.00,86.70 414.20,83.30 414.40,83.93 414.70,85.10 414.80,84.89 415.20,82.50 415.60,81.00 415.70,80.90 416.00,83.56 416.10,85.10 416.40,93.70 416.70,103.50 416.80,104.33 417.20,106.16 417.30,106.50 417.60,107.46 418.00,108.40 418.40,109.09 418.80,109.70 419.20,110.22 419.60,110.65 420.00,110.98 420.20,111.10 420.40,111.21 420.80,111.41 421.20,111.61 421.60,111.78 422.00,111.93 422.40,112.05 422.80,112.14 423.20,112.19 423.50,112.20 423.60,112.20 424.00,112.20 424.40,112.19 424.80,112.17 425.20,112.15 425.60,112.12 426.00,112.09 426.40,112.05 426.80,112.00 427.20,111.85 427.60,111.57 428.00,111.30 428.40,111.03 428.80,110.76 429.20,110.61 429.30,110.60 429.60,110.65 430.00,110.83 430.40,111.06 430.70,111.20 430.80,111.24 431.20,111.40 431.60,111.55 432.00,111.66 432.20,111.70 432.40,111.73 432.80,111.78 433.20,111.83 433.60,111.87 434.00,111.91 434.40,111.94 434.80,111.97 435.20,111.98 435.60,112.00 436.00,112.00 436.40,111.99 436.80,111.97 437.20,111.93 437.60,111.88 438.00,111.82 438.40,111.75 438.80,111.67 439.20,111.58 439.60,111.49 440.00,111.40 440.40,111.26 440.80,111.06 441.20,110.84 441.60,110.64 442.00,110.50 442.40,110.41 442.80,110.32 443.20,110.24 443.60,110.16 444.00,110.09 444.40,110.02 444.80,109.96 445.20,109.91 445.60,109.87 446.00,109.84 446.40,109.81 446.80,109.80 447.00,109.80 447.20,109.80 447.60,109.82 448.00,109.85 448.40,109.89 448.80,109.95 449.20,110.01 449.60,110.07 450.00,110.14 450.40,110.21 450.80,110.27 451.00,110.30 451.20,110.33 451.60,110.41 452.00,110.49 452.40,110.58 452.80,110.67 453.20,110.76 453.60,110.83 454.00,110.88 454.40,110.90 454.50,110.90 454.80,110.89 455.20,110.84 455.60,110.76 456.00,110.65 456.40,110.52 456.80,110.38 457.00,110.30 457.20,110.20 457.60,109.90 458.00,109.50 458.40,109.07 458.80,108.67 459.00,108.50 459.20,108.33 459.60,107.96 460.00,107.61 460.40,107.36 460.70,107.30 460.80,107.31 461.20,107.44 461.60,107.70 462.00,108.04 462.40,108.41 462.50,108.50 462.80,108.84 463.20,109.43 463.60,110.04 464.00,110.50 464.40,110.85 464.80,111.17 465.20,111.41 465.60,111.50 466.00,111.45 466.40,111.32 466.80,111.16 467.20,111.00 467.50,110.90 467.60,110.87 468.00,110.75 468.40,110.62 468.80,110.50 469.20,110.40 469.60,110.33 470.00,110.30 470.40,110.31 470.80,110.34 471.20,110.38 471.60,110.43 472.00,110.48 472.40,110.53 472.80,110.57 473.20,110.59 473.50,110.60 473.60,110.60 474.00,110.58 474.40,110.53 474.80,110.48 475.20,110.41 475.60,110.34 476.00,110.28 476.40,110.23 476.80,110.20 477.00,110.20 477.20,110.20 477.60,110.22 478.00,110.26 478.40,110.32 478.80,110.38 479.20,110.45 479.60,110.53 480.00,110.60 480.40,110.68 480.80,110.77 481.20,110.88 481.60,110.99 482.00,111.10 482.40,111.22 482.80,111.34 483.20,111.47 483.60,111.60 484.00,111.74 484.40,111.88 484.80,112.03 485.00,112.10 485.20,112.17 485.60,112.33 486.00,112.49 486.40,112.66 486.80,112.83 487.20,112.99 487.60,113.15 488.00,113.30 488.40,113.44 488.80,113.58 489.20,113.72 489.60,113.85 490.00,113.98 490.40,114.10 490.80,114.22 491.20,114.32 491.50,114.40 491.60,114.42 492.00,114.53 492.40,114.64 492.80,114.74 493.20,114.84 493.60,114.94 494.00,115.01 494.40,115.07 494.80,115.10 495.00,115.10 495.20,115.10 495.60,115.10 496.00,115.10 496.40,115.09 496.80,115.09 497.20,115.09 497.60,115.08 498.00,115.08 498.40,115.07 498.80,115.06 499.20,115.06 499.60,115.05 500.00,115.04 500.40,115.03 500.80,115.02 501.20,115.02 501.60,115.01 502.00,115.00 502.40,114.99 502.80,114.98 503.20,114.97 503.60,114.96 504.00,114.94 504.40,114.93 504.80,114.91 505.20,114.89 505.60,114.88 506.00,114.86 506.40,114.84 506.80,114.82 507.20,114.81 507.60,114.79 508.00,114.77 508.40,114.76 508.80,114.74 509.20,114.73 509.60,114.71 510.00,114.70 510.40,114.69 510.80,114.68 511.20,114.67 511.60,114.66 512.00,114.65 512.40,114.64 512.80,114.63 513.20,114.62 513.60,114.61 514.00,114.60 514.40,114.59 514.80,114.58 515.20,114.57 515.60,114.56 516.00,114.55 516.40,114.54 516.80,114.53 517.20,114.52 517.60,114.51 518.00,114.50 518.40,114.49 518.80,114.48 519.20,114.47 519.60,114.46 520.00,114.45 520.40,114.45 520.80,114.44 521.20,114.43 521.60,114.42 522.00,114.40 522.40,114.39 522.80,114.37 523.20,114.35 523.60,114.33 524.00,114.30 524.40,114.25 524.80,114.17 525.20,114.02 525.60,113.80 526.00,113.50 526.40,111.62 526.70,108.70 526.80,107.04 527.20,95.70 527.60,85.70 527.90,83.70 528.00,84.26 528.20,86.70 528.40,89.14 528.50,89.70 528.80,83.50 528.90,80.70 529.20,70.50 529.40,66.80 529.60,70.30 529.80,76.70 530.00,83.86 530.20,90.70 530.40,95.42 530.70,100.70 530.80,101.99 531.20,105.99 531.30,106.70 531.60,108.39 532.00,110.00 532.40,111.18 532.80,112.04 532.90,112.20 533.20,112.59 533.60,112.99 534.00,113.30 534.40,113.59 534.70,113.70 534.80,113.67 535.20,113.20 535.60,112.70 536.00,112.44 536.40,112.25 536.70,112.20 536.80,112.21 537.20,112.34 537.60,112.54 538.00,112.70 538.40,112.79 538.80,112.88 539.20,112.94 539.60,112.99 539.80,113.00" fill="none" stroke="#10AA62" stroke-width="1.8" stroke-linejoin="round" stroke-linecap="round"/>
<text x="333.2" y="108.3" class="lb">d</text>
<text x="335.4" y="186.8" class="lb">c</text>
<text x="343" y="280" class="lb">b</text>
<text x="351.4" y="362.1" class="lb">a</text>
<text x="302.5" y="449.6" class="at" text-anchor="middle">Wavenumber (cm<tspan dy="-6.6" font-size="13.5">−1</tspan><tspan dy="6.6">)</tspan></text>
<text transform="translate(21.5,199.8) rotate(-90)" class="at" style="font-size:19.9px" text-anchor="middle">Relative absorbance (a.u)</text>
</svg>
</body></html>
